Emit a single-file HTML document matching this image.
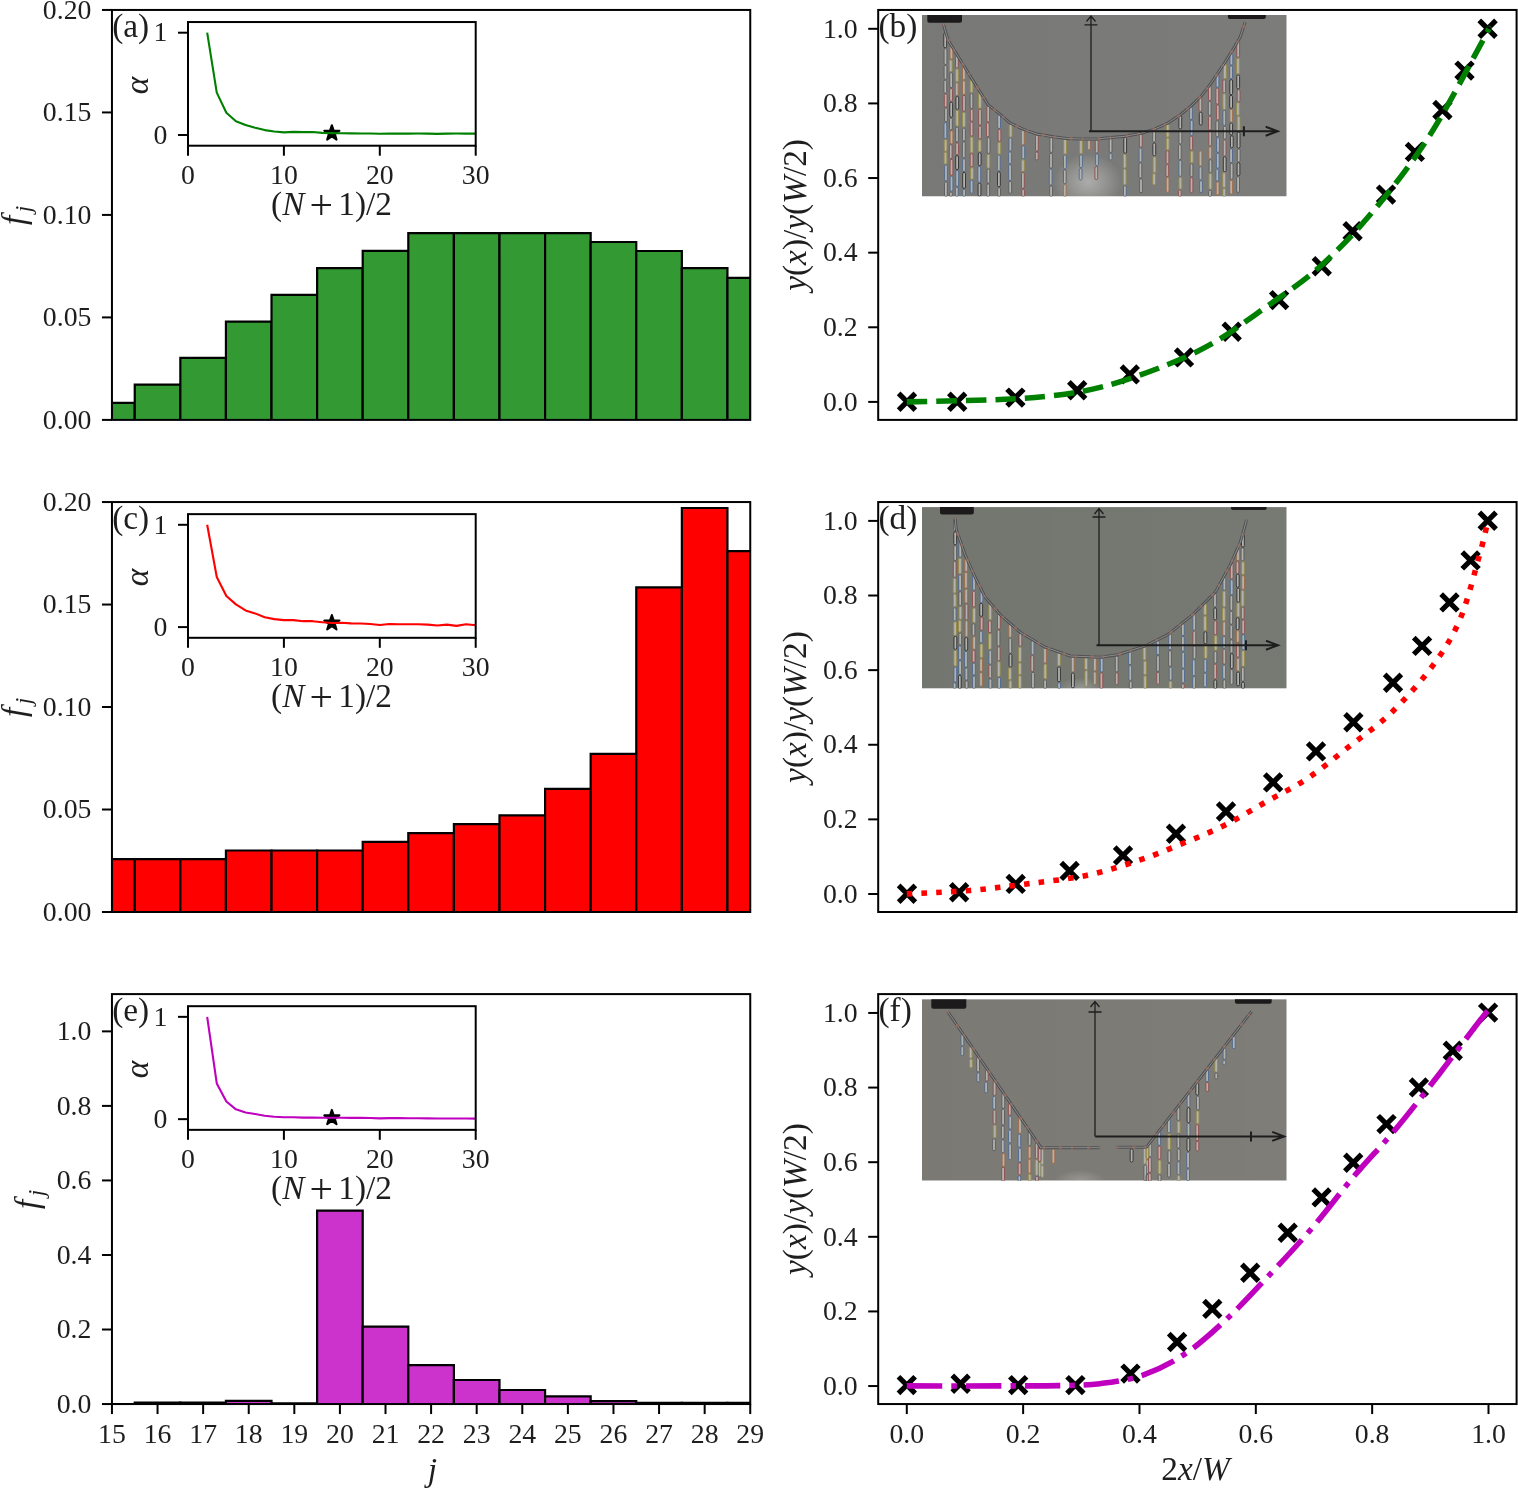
<!DOCTYPE html>
<html><head><meta charset="utf-8"><title>Figure</title>
<style>html,body{margin:0;padding:0;background:#fff;width:1518px;height:1488px;overflow:hidden}svg{display:block}</style>
</head><body>
<svg width="1518" height="1488" viewBox="0 0 1518 1488" font-family="'Liberation Serif', 'DejaVu Serif', serif" fill="#1e1e1e">
<rect width="1518" height="1488" fill="#fff"/>
<defs><radialGradient id="glare" cx="0.5" cy="0.5" r="0.5"><stop offset="0" stop-color="#dcdcdc" stop-opacity="0.6"/><stop offset="1" stop-color="#e8e8e8" stop-opacity="0"/></radialGradient><linearGradient id="vig" x1="0" y1="0" x2="1" y2="0"><stop offset="0" stop-color="#000" stop-opacity="0.015"/><stop offset="0.5" stop-color="#000" stop-opacity="0"/><stop offset="0.5" stop-color="#fff" stop-opacity="0"/><stop offset="1" stop-color="#fff" stop-opacity="0.015"/></linearGradient></defs>
<g clip-path="url(#clipL0)"><path d="M111.95,419.90V402.81H134.75V419.90" fill="#339933" stroke="#000" stroke-width="2.2" stroke-linejoin="miter"/><path d="M134.75,419.90V384.60H180.34V419.90" fill="#339933" stroke="#000" stroke-width="2.2" stroke-linejoin="miter"/><path d="M180.34,419.90V357.90H225.93V419.90" fill="#339933" stroke="#000" stroke-width="2.2" stroke-linejoin="miter"/><path d="M225.93,419.90V321.72H271.52V419.90" fill="#339933" stroke="#000" stroke-width="2.2" stroke-linejoin="miter"/><path d="M271.52,419.90V294.87H317.12V419.90" fill="#339933" stroke="#000" stroke-width="2.2" stroke-linejoin="miter"/><path d="M317.12,419.90V268.22H362.71V419.90" fill="#339933" stroke="#000" stroke-width="2.2" stroke-linejoin="miter"/><path d="M362.71,419.90V250.80H408.30V419.90" fill="#339933" stroke="#000" stroke-width="2.2" stroke-linejoin="miter"/><path d="M408.30,419.90V233.17H453.90V419.90" fill="#339933" stroke="#000" stroke-width="2.2" stroke-linejoin="miter"/><path d="M453.90,419.90V233.17H499.49V419.90" fill="#339933" stroke="#000" stroke-width="2.2" stroke-linejoin="miter"/><path d="M499.49,419.90V233.17H545.08V419.90" fill="#339933" stroke="#000" stroke-width="2.2" stroke-linejoin="miter"/><path d="M545.08,419.90V233.17H590.67V419.90" fill="#339933" stroke="#000" stroke-width="2.2" stroke-linejoin="miter"/><path d="M590.67,419.90V241.98H636.27V419.90" fill="#339933" stroke="#000" stroke-width="2.2" stroke-linejoin="miter"/><path d="M636.27,419.90V251.00H681.86V419.90" fill="#339933" stroke="#000" stroke-width="2.2" stroke-linejoin="miter"/><path d="M681.86,419.90V268.22H727.45V419.90" fill="#339933" stroke="#000" stroke-width="2.2" stroke-linejoin="miter"/><path d="M727.45,419.90V277.85H750.25V419.90" fill="#339933" stroke="#000" stroke-width="2.2" stroke-linejoin="miter"/></g>
<clipPath id="clipL0"><rect x="111.95" y="9.95" width="638.3" height="409.95"/></clipPath>
<rect x="111.95" y="9.95" width="638.30" height="409.95" fill="none" stroke="#000" stroke-width="2.0"/>
<line x1="101.95" y1="419.90" x2="111.95" y2="419.90" stroke="#000" stroke-width="2.0"/>
<text x="91.45" y="428.60" font-size="27.78" text-anchor="end" >0.00</text>
<line x1="101.95" y1="317.41" x2="111.95" y2="317.41" stroke="#000" stroke-width="2.0"/>
<text x="91.45" y="326.11" font-size="27.78" text-anchor="end" >0.05</text>
<line x1="101.95" y1="214.92" x2="111.95" y2="214.92" stroke="#000" stroke-width="2.0"/>
<text x="91.45" y="223.62" font-size="27.78" text-anchor="end" >0.10</text>
<line x1="101.95" y1="112.44" x2="111.95" y2="112.44" stroke="#000" stroke-width="2.0"/>
<text x="91.45" y="121.14" font-size="27.78" text-anchor="end" >0.15</text>
<line x1="101.95" y1="9.95" x2="111.95" y2="9.95" stroke="#000" stroke-width="2.0"/>
<text x="91.45" y="18.65" font-size="27.78" text-anchor="end" >0.20</text>
<text transform="translate(24.5,224.92) rotate(-90)" font-size="33.33" font-style="italic">f<tspan font-size="23.33" dx="3.5" dy="6">j</tspan></text>
<text x="112.15" y="36.75" font-size="33.33" text-anchor="start" >(a)</text>
<rect x="188.0" y="22.04" width="287.70" height="123.66" fill="#fff" stroke="none"/>
<polygon points="331.85,125.16 333.73,130.57 339.46,130.69 334.89,134.15 336.55,139.63 331.85,136.36 327.15,139.63 328.81,134.15 324.24,130.69 329.97,130.57" fill="#000" stroke="#000" stroke-width="2" stroke-linejoin="round"/>
<polyline points="207.18,32.70 216.77,92.60 226.36,112.70 235.95,121.19 245.54,125.08 255.13,127.84 264.72,130.09 274.31,131.52 283.90,132.34 293.49,131.83 303.08,132.14 312.67,132.03 322.26,132.85 331.85,133.16 341.44,133.26 351.03,133.36 360.62,133.47 370.21,133.57 379.80,133.77 389.39,133.57 398.98,133.67 408.57,133.67 418.16,133.57 427.75,133.67 437.34,133.87 446.93,133.67 456.52,133.57 466.11,133.67 475.70,133.67" fill="none" stroke="#008000" stroke-width="2.1" stroke-linejoin="round"/>
<rect x="188.0" y="22.04" width="287.70" height="123.66" fill="none" stroke="#000" stroke-width="2.0"/>
<line x1="178.00" y1="135.00" x2="188.00" y2="135.00" stroke="#000" stroke-width="2.0"/>
<text x="167.50" y="143.70" font-size="27.78" text-anchor="end" >0</text>
<line x1="178.00" y1="32.70" x2="188.00" y2="32.70" stroke="#000" stroke-width="2.0"/>
<text x="167.50" y="41.40" font-size="27.78" text-anchor="end" >1</text>
<line x1="188.00" y1="145.70" x2="188.00" y2="155.70" stroke="#000" stroke-width="2.0"/>
<text x="188.00" y="183.60" font-size="27.78" text-anchor="middle" >0</text>
<line x1="283.90" y1="145.70" x2="283.90" y2="155.70" stroke="#000" stroke-width="2.0"/>
<text x="283.90" y="183.60" font-size="27.78" text-anchor="middle" >10</text>
<line x1="379.80" y1="145.70" x2="379.80" y2="155.70" stroke="#000" stroke-width="2.0"/>
<text x="379.80" y="183.60" font-size="27.78" text-anchor="middle" >20</text>
<line x1="475.70" y1="145.70" x2="475.70" y2="155.70" stroke="#000" stroke-width="2.0"/>
<text x="475.70" y="183.60" font-size="27.78" text-anchor="middle" >30</text>
<text x="331.5" y="214.95" font-size="33.33" text-anchor="middle">(<tspan font-style="italic">N</tspan><tspan dx="5.15" dy="3.8" font-size="41.7">+</tspan><tspan dx="5.15" dy="-3.8">1)/2</tspan></text>
<text transform="translate(147.5,85.45) rotate(-90)" font-size="33.33" font-style="italic" text-anchor="middle">α</text>
<svg x="922.0" y="15.00" width="364.70" height="181.50" viewBox="922.0 15.00 364.70 181.50" overflow="hidden">
<rect x="922.0" y="15.00" width="364.70" height="181.50" fill="#7a7b78"/>
<rect x="922.0" y="15.00" width="364.70" height="181.50" fill="url(#vig)"/>
<ellipse cx="1088" cy="182" rx="34" ry="28" fill="url(#glare)" opacity="0.85"/>
<path d="M943.8,34.2v12.2a1.4,1.4 0 0 0 2.8,0v-12.2a1.4,1.4 0 0 0 -2.8,0zM949.8,103.6v12.2a1.4,1.4 0 0 0 2.8,0v-12.2a1.4,1.4 0 0 0 -2.8,0zM955.9,97.8v10.2a1.4,1.4 0 0 0 2.8,0v-10.2a1.4,1.4 0 0 0 -2.8,0zM955.7,157.0v11.2a1.4,1.4 0 0 0 2.8,0v-11.2a1.4,1.4 0 0 0 -2.8,0zM962.7,173.8v13.2a1.4,1.4 0 0 0 2.8,0v-13.2a1.4,1.4 0 0 0 -2.8,0zM978.3,154.0v10.2a1.4,1.4 0 0 0 2.8,0v-10.2a1.4,1.4 0 0 0 -2.8,0zM978.1,184.6v10.2a1.4,1.4 0 0 0 2.8,0v-10.2a1.4,1.4 0 0 0 -2.8,0zM997.5,173.2v12.2a1.4,1.4 0 0 0 2.8,0v-12.2a1.4,1.4 0 0 0 -2.8,0zM1123.8,138.7v13.2a1.4,1.4 0 0 0 2.8,0v-13.2a1.4,1.4 0 0 0 -2.8,0zM1152.9,144.3v10.2a1.4,1.4 0 0 0 2.8,0v-10.2a1.4,1.4 0 0 0 -2.8,0zM1178.9,117.4v10.2a1.4,1.4 0 0 0 2.8,0v-10.2a1.4,1.4 0 0 0 -2.8,0zM1199.3,113.6v10.0a1.4,1.4 0 0 0 2.8,0v-10.0a1.4,1.4 0 0 0 -2.8,0zM1223.3,158.2v12.2a1.4,1.4 0 0 0 2.8,0v-12.2a1.4,1.4 0 0 0 -2.8,0zM1229.8,81.0v12.2a1.4,1.4 0 0 0 2.8,0v-12.2a1.4,1.4 0 0 0 -2.8,0zM1229.7,96.8v10.2a1.4,1.4 0 0 0 2.8,0v-10.2a1.4,1.4 0 0 0 -2.8,0zM1229.8,124.4v9.2a1.4,1.4 0 0 0 2.8,0v-9.2a1.4,1.4 0 0 0 -2.8,0zM1230.4,137.2v9.2a1.4,1.4 0 0 0 2.8,0v-9.2a1.4,1.4 0 0 0 -2.8,0zM1236.8,76.3v11.2a1.4,1.4 0 0 0 2.8,0v-11.2a1.4,1.4 0 0 0 -2.8,0zM1237.2,133.5v13.2a1.4,1.4 0 0 0 2.8,0v-13.2a1.4,1.4 0 0 0 -2.8,0zM1237.1,164.1v10.2a1.4,1.4 0 0 0 2.8,0v-10.2a1.4,1.4 0 0 0 -2.8,0z" fill="#b2b2ae" stroke="#2e2e30" stroke-width="0.9"/>
<path d="M944.1,50.0v13.2a1.4,1.4 0 0 0 2.8,0v-13.2a1.4,1.4 0 0 0 -2.8,0zM944.1,66.8v11.2a1.4,1.4 0 0 0 2.8,0v-11.2a1.4,1.4 0 0 0 -2.8,0zM943.9,81.6v10.2a1.4,1.4 0 0 0 2.8,0v-10.2a1.4,1.4 0 0 0 -2.8,0zM944.6,109.2v11.2a1.4,1.4 0 0 0 2.8,0v-11.2a1.4,1.4 0 0 0 -2.8,0zM944.5,183.2v11.9a1.4,1.4 0 0 0 2.8,0v-11.9a1.4,1.4 0 0 0 -2.8,0zM949.8,74.0v12.2a1.4,1.4 0 0 0 2.8,0v-12.2a1.4,1.4 0 0 0 -2.8,0zM949.5,119.4v9.2a1.4,1.4 0 0 0 2.8,0v-9.2a1.4,1.4 0 0 0 -2.8,0zM949.5,193.4v1.7a1.4,1.4 0 0 0 2.8,0v-1.7a1.4,1.4 0 0 0 -2.8,0zM955.6,128.4v12.2a1.4,1.4 0 0 0 2.8,0v-12.2a1.4,1.4 0 0 0 -2.8,0zM962.5,129.4v10.2a1.4,1.4 0 0 0 2.8,0v-10.2a1.4,1.4 0 0 0 -2.8,0zM962.4,143.2v13.2a1.4,1.4 0 0 0 2.8,0v-13.2a1.4,1.4 0 0 0 -2.8,0zM970.1,94.9v12.2a1.4,1.4 0 0 0 2.8,0v-12.2a1.4,1.4 0 0 0 -2.8,0zM987.2,138.9v13.2a1.4,1.4 0 0 0 2.8,0v-13.2a1.4,1.4 0 0 0 -2.8,0zM987.0,170.5v11.2a1.4,1.4 0 0 0 2.8,0v-11.2a1.4,1.4 0 0 0 -2.8,0zM986.8,185.3v9.8a1.4,1.4 0 0 0 2.8,0v-9.8a1.4,1.4 0 0 0 -2.8,0zM997.7,189.0v6.1a1.4,1.4 0 0 0 2.8,0v-6.1a1.4,1.4 0 0 0 -2.8,0zM1008.8,182.8v9.2a1.4,1.4 0 0 0 2.8,0v-9.2a1.4,1.4 0 0 0 -2.8,0zM1049.9,138.9v12.2a1.4,1.4 0 0 0 2.8,0v-12.2a1.4,1.4 0 0 0 -2.8,0zM1049.6,154.7v12.2a1.4,1.4 0 0 0 2.8,0v-12.2a1.4,1.4 0 0 0 -2.8,0zM1049.7,187.3v7.8a1.4,1.4 0 0 0 2.8,0v-7.8a1.4,1.4 0 0 0 -2.8,0zM1063.4,171.2v11.2a1.4,1.4 0 0 0 2.8,0v-11.2a1.4,1.4 0 0 0 -2.8,0zM1109.2,140.0v11.2a1.4,1.4 0 0 0 2.8,0v-11.2a1.4,1.4 0 0 0 -2.8,0zM1139.0,164.3v12.2a1.4,1.4 0 0 0 2.8,0v-12.2a1.4,1.4 0 0 0 -2.8,0zM1139.6,180.1v11.2a1.4,1.4 0 0 0 2.8,0v-11.2a1.4,1.4 0 0 0 -2.8,0zM1152.7,131.5v9.2a1.4,1.4 0 0 0 2.8,0v-9.2a1.4,1.4 0 0 0 -2.8,0zM1179.0,131.2v11.2a1.4,1.4 0 0 0 2.8,0v-11.2a1.4,1.4 0 0 0 -2.8,0zM1178.4,146.0v12.2a1.4,1.4 0 0 0 2.8,0v-12.2a1.4,1.4 0 0 0 -2.8,0zM1190.1,165.2v10.2a1.4,1.4 0 0 0 2.8,0v-10.2a1.4,1.4 0 0 0 -2.8,0zM1208.3,102.8v11.2a1.4,1.4 0 0 0 2.8,0v-11.2a1.4,1.4 0 0 0 -2.8,0zM1209.1,161.0v10.2a1.4,1.4 0 0 0 2.8,0v-10.2a1.4,1.4 0 0 0 -2.8,0zM1208.6,191.6v3.5a1.4,1.4 0 0 0 2.8,0v-3.5a1.4,1.4 0 0 0 -2.8,0zM1215.9,122.1v13.2a1.4,1.4 0 0 0 2.8,0v-13.2a1.4,1.4 0 0 0 -2.8,0zM1223.4,127.6v10.2a1.4,1.4 0 0 0 2.8,0v-10.2a1.4,1.4 0 0 0 -2.8,0zM1230.2,164.8v13.2a1.4,1.4 0 0 0 2.8,0v-13.2a1.4,1.4 0 0 0 -2.8,0zM1237.3,150.3v10.2a1.4,1.4 0 0 0 2.8,0v-10.2a1.4,1.4 0 0 0 -2.8,0zM1236.7,177.9v13.2a1.4,1.4 0 0 0 2.8,0v-13.2a1.4,1.4 0 0 0 -2.8,0z" fill="#b2b2ae" stroke="#5a5a5c" stroke-width="0.9"/>
<path d="M944.3,95.4v10.2a1.4,1.4 0 0 0 2.8,0v-10.2a1.4,1.4 0 0 0 -2.8,0zM949.7,89.8v10.2a1.4,1.4 0 0 0 2.8,0v-10.2a1.4,1.4 0 0 0 -2.8,0zM949.3,146.0v11.2a1.4,1.4 0 0 0 2.8,0v-11.2a1.4,1.4 0 0 0 -2.8,0zM950.1,160.8v13.2a1.4,1.4 0 0 0 2.8,0v-13.2a1.4,1.4 0 0 0 -2.8,0zM955.5,57.4v9.2a1.4,1.4 0 0 0 2.8,0v-9.2a1.4,1.4 0 0 0 -2.8,0zM955.7,144.2v9.2a1.4,1.4 0 0 0 2.8,0v-9.2a1.4,1.4 0 0 0 -2.8,0zM962.6,96.8v13.2a1.4,1.4 0 0 0 2.8,0v-13.2a1.4,1.4 0 0 0 -2.8,0zM970.3,110.7v9.2a1.4,1.4 0 0 0 2.8,0v-9.2a1.4,1.4 0 0 0 -2.8,0zM970.2,123.5v11.2a1.4,1.4 0 0 0 2.8,0v-11.2a1.4,1.4 0 0 0 -2.8,0zM970.2,155.1v10.2a1.4,1.4 0 0 0 2.8,0v-10.2a1.4,1.4 0 0 0 -2.8,0zM978.6,110.6v13.2a1.4,1.4 0 0 0 2.8,0v-13.2a1.4,1.4 0 0 0 -2.8,0zM978.6,127.4v10.2a1.4,1.4 0 0 0 2.8,0v-10.2a1.4,1.4 0 0 0 -2.8,0zM986.8,107.3v13.2a1.4,1.4 0 0 0 2.8,0v-13.2a1.4,1.4 0 0 0 -2.8,0zM986.4,124.1v11.2a1.4,1.4 0 0 0 2.8,0v-11.2a1.4,1.4 0 0 0 -2.8,0zM998.1,130.8v9.2a1.4,1.4 0 0 0 2.8,0v-9.2a1.4,1.4 0 0 0 -2.8,0zM1021.5,173.8v13.2a1.4,1.4 0 0 0 2.8,0v-13.2a1.4,1.4 0 0 0 -2.8,0zM1021.8,190.6v4.5a1.4,1.4 0 0 0 2.8,0v-4.5a1.4,1.4 0 0 0 -2.8,0zM1035.5,136.5v13.2a1.4,1.4 0 0 0 2.8,0v-13.2a1.4,1.4 0 0 0 -2.8,0zM1035.4,153.3v5.3a1.4,1.4 0 0 0 2.8,0v-5.3a1.4,1.4 0 0 0 -2.8,0zM1095.3,141.4v10.2a1.4,1.4 0 0 0 2.8,0v-10.2a1.4,1.4 0 0 0 -2.8,0zM1094.9,168.0v10.2a1.4,1.4 0 0 0 2.8,0v-10.2a1.4,1.4 0 0 0 -2.8,0zM1139.4,135.7v10.2a1.4,1.4 0 0 0 2.8,0v-10.2a1.4,1.4 0 0 0 -2.8,0zM1166.1,152.2v10.2a1.4,1.4 0 0 0 2.8,0v-10.2a1.4,1.4 0 0 0 -2.8,0zM1165.9,166.0v9.2a1.4,1.4 0 0 0 2.8,0v-9.2a1.4,1.4 0 0 0 -2.8,0zM1178.4,191.4v3.7a1.4,1.4 0 0 0 2.8,0v-3.7a1.4,1.4 0 0 0 -2.8,0zM1189.8,137.6v11.2a1.4,1.4 0 0 0 2.8,0v-11.2a1.4,1.4 0 0 0 -2.8,0zM1190.1,179.0v12.2a1.4,1.4 0 0 0 2.8,0v-12.2a1.4,1.4 0 0 0 -2.8,0zM1199.0,98.8v11.2a1.4,1.4 0 0 0 2.8,0v-11.2a1.4,1.4 0 0 0 -2.8,0zM1208.5,87.0v12.2a1.4,1.4 0 0 0 2.8,0v-12.2a1.4,1.4 0 0 0 -2.8,0zM1208.5,117.6v11.2a1.4,1.4 0 0 0 2.8,0v-11.2a1.4,1.4 0 0 0 -2.8,0zM1208.8,132.4v12.2a1.4,1.4 0 0 0 2.8,0v-12.2a1.4,1.4 0 0 0 -2.8,0zM1215.9,89.5v13.2a1.4,1.4 0 0 0 2.8,0v-13.2a1.4,1.4 0 0 0 -2.8,0zM1216.4,106.3v12.2a1.4,1.4 0 0 0 2.8,0v-12.2a1.4,1.4 0 0 0 -2.8,0zM1222.8,81.2v10.2a1.4,1.4 0 0 0 2.8,0v-10.2a1.4,1.4 0 0 0 -2.8,0zM1223.2,141.4v13.2a1.4,1.4 0 0 0 2.8,0v-13.2a1.4,1.4 0 0 0 -2.8,0zM1236.8,42.7v13.2a1.4,1.4 0 0 0 2.8,0v-13.2a1.4,1.4 0 0 0 -2.8,0zM1237.2,91.1v9.2a1.4,1.4 0 0 0 2.8,0v-9.2a1.4,1.4 0 0 0 -2.8,0z" fill="#b2b2ae" stroke="#8e4c4c" stroke-width="0.9"/>
<path d="M944.0,124.0v13.2a1.4,1.4 0 0 0 2.8,0v-13.2a1.4,1.4 0 0 0 -2.8,0zM944.6,166.4v13.2a1.4,1.4 0 0 0 2.8,0v-13.2a1.4,1.4 0 0 0 -2.8,0zM950.1,177.6v12.2a1.4,1.4 0 0 0 2.8,0v-12.2a1.4,1.4 0 0 0 -2.8,0zM955.8,171.8v13.2a1.4,1.4 0 0 0 2.8,0v-13.2a1.4,1.4 0 0 0 -2.8,0zM955.4,188.6v6.5a1.4,1.4 0 0 0 2.8,0v-6.5a1.4,1.4 0 0 0 -2.8,0zM962.6,160.0v10.2a1.4,1.4 0 0 0 2.8,0v-10.2a1.4,1.4 0 0 0 -2.8,0zM962.7,190.6v4.5a1.4,1.4 0 0 0 2.8,0v-4.5a1.4,1.4 0 0 0 -2.8,0zM970.2,181.7v10.2a1.4,1.4 0 0 0 2.8,0v-10.2a1.4,1.4 0 0 0 -2.8,0zM977.9,167.8v13.2a1.4,1.4 0 0 0 2.8,0v-13.2a1.4,1.4 0 0 0 -2.8,0zM997.7,116.0v11.2a1.4,1.4 0 0 0 2.8,0v-11.2a1.4,1.4 0 0 0 -2.8,0zM997.4,156.4v13.2a1.4,1.4 0 0 0 2.8,0v-13.2a1.4,1.4 0 0 0 -2.8,0zM1009.0,139.4v10.2a1.4,1.4 0 0 0 2.8,0v-10.2a1.4,1.4 0 0 0 -2.8,0zM1008.6,153.2v9.2a1.4,1.4 0 0 0 2.8,0v-9.2a1.4,1.4 0 0 0 -2.8,0zM1008.7,166.0v13.2a1.4,1.4 0 0 0 2.8,0v-13.2a1.4,1.4 0 0 0 -2.8,0zM1021.9,147.2v10.2a1.4,1.4 0 0 0 2.8,0v-10.2a1.4,1.4 0 0 0 -2.8,0zM1049.3,170.5v13.2a1.4,1.4 0 0 0 2.8,0v-13.2a1.4,1.4 0 0 0 -2.8,0zM1063.5,156.4v11.2a1.4,1.4 0 0 0 2.8,0v-11.2a1.4,1.4 0 0 0 -2.8,0zM1079.6,156.2v10.2a1.4,1.4 0 0 0 2.8,0v-10.2a1.4,1.4 0 0 0 -2.8,0zM1079.2,170.0v8.6a1.4,1.4 0 0 0 2.8,0v-8.6a1.4,1.4 0 0 0 -2.8,0zM1095.6,155.2v9.2a1.4,1.4 0 0 0 2.8,0v-9.2a1.4,1.4 0 0 0 -2.8,0zM1109.2,154.8v3.8a1.4,1.4 0 0 0 2.8,0v-3.8a1.4,1.4 0 0 0 -2.8,0zM1123.5,187.1v8.0a1.4,1.4 0 0 0 2.8,0v-8.0a1.4,1.4 0 0 0 -2.8,0zM1139.1,149.5v11.2a1.4,1.4 0 0 0 2.8,0v-11.2a1.4,1.4 0 0 0 -2.8,0zM1178.9,161.8v13.2a1.4,1.4 0 0 0 2.8,0v-13.2a1.4,1.4 0 0 0 -2.8,0zM1189.6,108.0v10.2a1.4,1.4 0 0 0 2.8,0v-10.2a1.4,1.4 0 0 0 -2.8,0zM1190.2,121.8v12.2a1.4,1.4 0 0 0 2.8,0v-12.2a1.4,1.4 0 0 0 -2.8,0zM1199.1,168.2v10.2a1.4,1.4 0 0 0 2.8,0v-10.2a1.4,1.4 0 0 0 -2.8,0zM1199.6,182.0v9.2a1.4,1.4 0 0 0 2.8,0v-9.2a1.4,1.4 0 0 0 -2.8,0zM1216.1,75.7v10.2a1.4,1.4 0 0 0 2.8,0v-10.2a1.4,1.4 0 0 0 -2.8,0zM1216.6,138.9v12.2a1.4,1.4 0 0 0 2.8,0v-12.2a1.4,1.4 0 0 0 -2.8,0zM1216.4,154.7v12.2a1.4,1.4 0 0 0 2.8,0v-12.2a1.4,1.4 0 0 0 -2.8,0zM1215.9,170.5v9.2a1.4,1.4 0 0 0 2.8,0v-9.2a1.4,1.4 0 0 0 -2.8,0zM1222.9,111.8v12.2a1.4,1.4 0 0 0 2.8,0v-12.2a1.4,1.4 0 0 0 -2.8,0zM1230.0,54.4v9.2a1.4,1.4 0 0 0 2.8,0v-9.2a1.4,1.4 0 0 0 -2.8,0zM1229.7,67.2v10.2a1.4,1.4 0 0 0 2.8,0v-10.2a1.4,1.4 0 0 0 -2.8,0zM1229.7,150.0v11.2a1.4,1.4 0 0 0 2.8,0v-11.2a1.4,1.4 0 0 0 -2.8,0z" fill="#b2b2ae" stroke="#4c6890" stroke-width="0.9"/>
<path d="M944.2,140.8v9.2a1.4,1.4 0 0 0 2.8,0v-9.2a1.4,1.4 0 0 0 -2.8,0zM944.1,153.6v9.2a1.4,1.4 0 0 0 2.8,0v-9.2a1.4,1.4 0 0 0 -2.8,0zM949.4,61.2v9.2a1.4,1.4 0 0 0 2.8,0v-9.2a1.4,1.4 0 0 0 -2.8,0zM955.6,70.2v10.2a1.4,1.4 0 0 0 2.8,0v-10.2a1.4,1.4 0 0 0 -2.8,0zM955.8,111.6v13.2a1.4,1.4 0 0 0 2.8,0v-13.2a1.4,1.4 0 0 0 -2.8,0zM962.5,113.6v12.2a1.4,1.4 0 0 0 2.8,0v-12.2a1.4,1.4 0 0 0 -2.8,0zM970.1,81.1v10.2a1.4,1.4 0 0 0 2.8,0v-10.2a1.4,1.4 0 0 0 -2.8,0zM970.2,138.3v13.2a1.4,1.4 0 0 0 2.8,0v-13.2a1.4,1.4 0 0 0 -2.8,0zM970.6,168.9v9.2a1.4,1.4 0 0 0 2.8,0v-9.2a1.4,1.4 0 0 0 -2.8,0zM978.5,93.8v13.2a1.4,1.4 0 0 0 2.8,0v-13.2a1.4,1.4 0 0 0 -2.8,0zM978.3,141.2v9.2a1.4,1.4 0 0 0 2.8,0v-9.2a1.4,1.4 0 0 0 -2.8,0zM987.0,155.7v11.2a1.4,1.4 0 0 0 2.8,0v-11.2a1.4,1.4 0 0 0 -2.8,0zM997.9,143.6v9.2a1.4,1.4 0 0 0 2.8,0v-9.2a1.4,1.4 0 0 0 -2.8,0zM1009.2,125.6v10.2a1.4,1.4 0 0 0 2.8,0v-10.2a1.4,1.4 0 0 0 -2.8,0zM1021.6,161.0v9.2a1.4,1.4 0 0 0 2.8,0v-9.2a1.4,1.4 0 0 0 -2.8,0zM1063.7,140.6v12.2a1.4,1.4 0 0 0 2.8,0v-12.2a1.4,1.4 0 0 0 -2.8,0zM1079.6,141.4v11.2a1.4,1.4 0 0 0 2.8,0v-11.2a1.4,1.4 0 0 0 -2.8,0zM1123.3,155.5v11.2a1.4,1.4 0 0 0 2.8,0v-11.2a1.4,1.4 0 0 0 -2.8,0zM1123.3,170.3v13.2a1.4,1.4 0 0 0 2.8,0v-13.2a1.4,1.4 0 0 0 -2.8,0zM1153.1,158.1v13.2a1.4,1.4 0 0 0 2.8,0v-13.2a1.4,1.4 0 0 0 -2.8,0zM1152.7,174.9v8.7a1.4,1.4 0 0 0 2.8,0v-8.7a1.4,1.4 0 0 0 -2.8,0zM1166.3,125.6v10.2a1.4,1.4 0 0 0 2.8,0v-10.2a1.4,1.4 0 0 0 -2.8,0zM1166.3,139.4v9.2a1.4,1.4 0 0 0 2.8,0v-9.2a1.4,1.4 0 0 0 -2.8,0zM1179.0,178.6v9.2a1.4,1.4 0 0 0 2.8,0v-9.2a1.4,1.4 0 0 0 -2.8,0zM1190.4,152.4v9.2a1.4,1.4 0 0 0 2.8,0v-9.2a1.4,1.4 0 0 0 -2.8,0zM1209.0,174.8v13.2a1.4,1.4 0 0 0 2.8,0v-13.2a1.4,1.4 0 0 0 -2.8,0zM1223.5,65.4v12.2a1.4,1.4 0 0 0 2.8,0v-12.2a1.4,1.4 0 0 0 -2.8,0zM1222.9,95.0v13.2a1.4,1.4 0 0 0 2.8,0v-13.2a1.4,1.4 0 0 0 -2.8,0zM1222.7,174.0v12.2a1.4,1.4 0 0 0 2.8,0v-12.2a1.4,1.4 0 0 0 -2.8,0zM1222.8,189.8v5.3a1.4,1.4 0 0 0 2.8,0v-5.3a1.4,1.4 0 0 0 -2.8,0zM1236.6,59.5v13.2a1.4,1.4 0 0 0 2.8,0v-13.2a1.4,1.4 0 0 0 -2.8,0zM1236.6,103.9v10.2a1.4,1.4 0 0 0 2.8,0v-10.2a1.4,1.4 0 0 0 -2.8,0zM1237.2,117.7v12.2a1.4,1.4 0 0 0 2.8,0v-12.2a1.4,1.4 0 0 0 -2.8,0z" fill="#b2b2ae" stroke="#968a44" stroke-width="0.9"/>
<path d="M950.0,47.4v10.2a1.4,1.4 0 0 0 2.8,0v-10.2a1.4,1.4 0 0 0 -2.8,0zM950.1,132.2v10.2a1.4,1.4 0 0 0 2.8,0v-10.2a1.4,1.4 0 0 0 -2.8,0zM955.4,84.0v10.2a1.4,1.4 0 0 0 2.8,0v-10.2a1.4,1.4 0 0 0 -2.8,0zM962.5,68.2v10.2a1.4,1.4 0 0 0 2.8,0v-10.2a1.4,1.4 0 0 0 -2.8,0zM962.5,82.0v11.2a1.4,1.4 0 0 0 2.8,0v-11.2a1.4,1.4 0 0 0 -2.8,0zM1021.5,131.4v12.2a1.4,1.4 0 0 0 2.8,0v-12.2a1.4,1.4 0 0 0 -2.8,0zM1063.4,186.0v9.1a1.4,1.4 0 0 0 2.8,0v-9.1a1.4,1.4 0 0 0 -2.8,0zM1087.6,141.4v7.2a1.4,1.4 0 0 0 2.8,0v-7.2a1.4,1.4 0 0 0 -2.8,0zM1166.2,178.8v12.2a1.4,1.4 0 0 0 2.8,0v-12.2a1.4,1.4 0 0 0 -2.8,0zM1199.1,152.4v12.2a1.4,1.4 0 0 0 2.8,0v-12.2a1.4,1.4 0 0 0 -2.8,0zM1208.8,148.2v9.2a1.4,1.4 0 0 0 2.8,0v-9.2a1.4,1.4 0 0 0 -2.8,0zM1216.2,183.3v10.2a1.4,1.4 0 0 0 2.8,0v-10.2a1.4,1.4 0 0 0 -2.8,0zM1229.8,110.6v10.2a1.4,1.4 0 0 0 2.8,0v-10.2a1.4,1.4 0 0 0 -2.8,0zM1229.8,181.6v11.2a1.4,1.4 0 0 0 2.8,0v-11.2a1.4,1.4 0 0 0 -2.8,0z" fill="#b2b2ae" stroke="#a06a44" stroke-width="0.9"/>
<polyline points="943.2,23.6 948.0,40.0 960.0,59.5 975.0,83.9 988.2,104.9 1000.4,114.6 1010.2,123.2 1023.6,129.3 1037.0,134.1 1051.6,136.6 1066.3,138.4 1080.9,139.0 1096.7,139.0 1111.3,137.5 1125.0,136.3 1141.3,133.2 1153.8,129.4 1167.6,123.2 1180.1,115.0 1191.4,105.6 1202.0,95.2 1210.1,84.6 1217.6,73.3 1225.2,62.0 1233.3,48.9 1240.2,37.0 1245.2,22.0" fill="none" stroke="#505054" stroke-width="3.0" stroke-linejoin="round"/>
<polyline points="943.2,23.6 948.0,40.0 960.0,59.5 975.0,83.9 988.2,104.9 1000.4,114.6 1010.2,123.2 1023.6,129.3 1037.0,134.1 1051.6,136.6 1066.3,138.4 1080.9,139.0 1096.7,139.0 1111.3,137.5 1125.0,136.3 1141.3,133.2 1153.8,129.4 1167.6,123.2 1180.1,115.0 1191.4,105.6 1202.0,95.2 1210.1,84.6 1217.6,73.3 1225.2,62.0 1233.3,48.9 1240.2,37.0 1245.2,22.0" fill="none" stroke="#94948f" stroke-width="0.9" stroke-linejoin="round"/>
<polyline points="943.2,23.6 948.0,40.0 960.0,59.5 975.0,83.9 988.2,104.9 1000.4,114.6 1010.2,123.2 1023.6,129.3 1037.0,134.1 1051.6,136.6 1066.3,138.4 1080.9,139.0 1096.7,139.0 1111.3,137.5 1125.0,136.3 1141.3,133.2 1153.8,129.4 1167.6,123.2 1180.1,115.0 1191.4,105.6 1202.0,95.2 1210.1,84.6 1217.6,73.3 1225.2,62.0 1233.3,48.9 1240.2,37.0 1245.2,22.0" fill="none" stroke="#a07060" stroke-width="3.4" stroke-dasharray="2,14,3,9" stroke-opacity="0.6" stroke-linejoin="round"/>
<path d="M1091,131.3V16.5M1086.5,21.5L1091,16.0L1095.5,21.5M1084.5,24.8H1097.5" stroke="#1e1e1e" stroke-width="1.3" fill="none"/>
<path d="M1089,131.3H1277.7M1265.7,126.80000000000001L1277.7,131.3L1265.7,135.8M1243.9,126.30000000000001V136.3" stroke="#1e1e1e" stroke-width="2" fill="none"/>
<rect x="927.3" y="11" width="34.7" height="11.7" rx="2" fill="#1c1a1a"/>
<rect x="1227.9" y="11.1" width="37.9" height="7.8" rx="2" fill="#1c1a1a"/>
</svg>
<path d="M898.65,393.35L915.35,410.05M898.65,410.05L915.35,393.35" stroke="#000" stroke-width="5.2" stroke-linecap="butt" fill="none"/>
<path d="M948.85,393.35L965.55,410.05M948.85,410.05L965.55,393.35" stroke="#000" stroke-width="5.2" stroke-linecap="butt" fill="none"/>
<path d="M1007.05,389.25L1023.75,405.95M1007.05,405.95L1023.75,389.25" stroke="#000" stroke-width="5.2" stroke-linecap="butt" fill="none"/>
<path d="M1068.85,381.85L1085.55,398.55M1068.85,398.55L1085.55,381.85" stroke="#000" stroke-width="5.2" stroke-linecap="butt" fill="none"/>
<path d="M1121.45,366.05L1138.15,382.75M1121.45,382.75L1138.15,366.05" stroke="#000" stroke-width="5.2" stroke-linecap="butt" fill="none"/>
<path d="M1175.65,349.05L1192.35,365.75M1175.65,365.75L1192.35,349.05" stroke="#000" stroke-width="5.2" stroke-linecap="butt" fill="none"/>
<path d="M1223.35,323.45L1240.05,340.15M1223.35,340.15L1240.05,323.45" stroke="#000" stroke-width="5.2" stroke-linecap="butt" fill="none"/>
<path d="M1270.75,291.75L1287.45,308.45M1270.75,308.45L1287.45,291.75" stroke="#000" stroke-width="5.2" stroke-linecap="butt" fill="none"/>
<path d="M1313.45,257.85L1330.15,274.55M1313.45,274.55L1330.15,257.85" stroke="#000" stroke-width="5.2" stroke-linecap="butt" fill="none"/>
<path d="M1344.25,222.85L1360.95,239.55M1344.25,239.55L1360.95,222.85" stroke="#000" stroke-width="5.2" stroke-linecap="butt" fill="none"/>
<path d="M1377.65,186.25L1394.35,202.95M1377.65,202.95L1394.35,186.25" stroke="#000" stroke-width="5.2" stroke-linecap="butt" fill="none"/>
<path d="M1406.55,143.55L1423.25,160.25M1406.55,160.25L1423.25,143.55" stroke="#000" stroke-width="5.2" stroke-linecap="butt" fill="none"/>
<path d="M1434.05,101.65L1450.75,118.35M1434.05,118.35L1450.75,101.65" stroke="#000" stroke-width="5.2" stroke-linecap="butt" fill="none"/>
<path d="M1456.15,62.25L1472.85,78.95M1456.15,78.95L1472.85,62.25" stroke="#000" stroke-width="5.2" stroke-linecap="butt" fill="none"/>
<path d="M1479.25,20.35L1495.95,37.05M1479.25,37.05L1495.95,20.35" stroke="#000" stroke-width="5.2" stroke-linecap="butt" fill="none"/>
<path d="M906.80,401.90C922.33,401.50 976.13,400.48 1000.00,399.50C1023.87,398.52 1033.33,398.02 1050.00,396.00C1066.67,393.98 1082.48,391.82 1100.00,387.40C1117.52,382.98 1136.73,376.62 1155.10,369.50C1173.47,362.38 1191.83,355.03 1210.20,344.70C1228.57,334.37 1246.93,320.58 1265.30,307.50C1283.67,294.42 1302.03,282.72 1320.40,266.20C1338.77,249.68 1357.13,230.43 1375.50,208.40C1393.87,186.37 1412.70,162.02 1430.60,134.00C1448.50,105.98 1473.25,57.83 1482.90,40.30C1492.55,22.77 1487.57,30.72 1488.50,28.80" fill="none" stroke="#008000" stroke-width="5.56" stroke-dasharray="20.57,8.90" stroke-linecap="butt"/>
<rect x="878.2" y="9.95" width="638.40" height="409.95" fill="none" stroke="#000" stroke-width="2.0"/>
<line x1="868.20" y1="401.90" x2="878.20" y2="401.90" stroke="#000" stroke-width="2.0"/>
<text x="857.70" y="410.60" font-size="27.78" text-anchor="end" >0.0</text>
<line x1="868.20" y1="327.28" x2="878.20" y2="327.28" stroke="#000" stroke-width="2.0"/>
<text x="857.70" y="335.98" font-size="27.78" text-anchor="end" >0.2</text>
<line x1="868.20" y1="252.66" x2="878.20" y2="252.66" stroke="#000" stroke-width="2.0"/>
<text x="857.70" y="261.36" font-size="27.78" text-anchor="end" >0.4</text>
<line x1="868.20" y1="178.04" x2="878.20" y2="178.04" stroke="#000" stroke-width="2.0"/>
<text x="857.70" y="186.74" font-size="27.78" text-anchor="end" >0.6</text>
<line x1="868.20" y1="103.42" x2="878.20" y2="103.42" stroke="#000" stroke-width="2.0"/>
<text x="857.70" y="112.12" font-size="27.78" text-anchor="end" >0.8</text>
<line x1="868.20" y1="28.80" x2="878.20" y2="28.80" stroke="#000" stroke-width="2.0"/>
<text x="857.70" y="37.50" font-size="27.78" text-anchor="end" >1.0</text>
<text transform="translate(805.5,214.92) rotate(-90)" font-size="33.33" text-anchor="middle"><tspan font-style="italic">y</tspan>(<tspan font-style="italic">x</tspan>)/<tspan font-style="italic">y</tspan>(<tspan font-style="italic">W</tspan>/2)</text>
<text x="878.50" y="36.75" font-size="33.33" text-anchor="start" >(b)</text>
<g clip-path="url(#clipL1)"><path d="M111.95,912.00V859.12H134.75V912.00" fill="#ff0000" stroke="#000" stroke-width="2.2" stroke-linejoin="miter"/><path d="M134.75,912.00V859.12H180.34V912.00" fill="#ff0000" stroke="#000" stroke-width="2.2" stroke-linejoin="miter"/><path d="M180.34,912.00V859.12H225.93V912.00" fill="#ff0000" stroke="#000" stroke-width="2.2" stroke-linejoin="miter"/><path d="M225.93,912.00V850.51H271.52V912.00" fill="#ff0000" stroke="#000" stroke-width="2.2" stroke-linejoin="miter"/><path d="M271.52,912.00V850.51H317.12V912.00" fill="#ff0000" stroke="#000" stroke-width="2.2" stroke-linejoin="miter"/><path d="M317.12,912.00V850.51H362.71V912.00" fill="#ff0000" stroke="#000" stroke-width="2.2" stroke-linejoin="miter"/><path d="M362.71,912.00V841.90H408.30V912.00" fill="#ff0000" stroke="#000" stroke-width="2.2" stroke-linejoin="miter"/><path d="M408.30,912.00V833.08H453.90V912.00" fill="#ff0000" stroke="#000" stroke-width="2.2" stroke-linejoin="miter"/><path d="M453.90,912.00V824.07H499.49V912.00" fill="#ff0000" stroke="#000" stroke-width="2.2" stroke-linejoin="miter"/><path d="M499.49,912.00V815.46H545.08V912.00" fill="#ff0000" stroke="#000" stroke-width="2.2" stroke-linejoin="miter"/><path d="M545.08,912.00V788.81H590.67V912.00" fill="#ff0000" stroke="#000" stroke-width="2.2" stroke-linejoin="miter"/><path d="M590.67,912.00V753.96H636.27V912.00" fill="#ff0000" stroke="#000" stroke-width="2.2" stroke-linejoin="miter"/><path d="M636.27,912.00V587.32H681.86V912.00" fill="#ff0000" stroke="#000" stroke-width="2.2" stroke-linejoin="miter"/><path d="M681.86,912.00V507.99H727.45V912.00" fill="#ff0000" stroke="#000" stroke-width="2.2" stroke-linejoin="miter"/><path d="M727.45,912.00V551.04H750.25V912.00" fill="#ff0000" stroke="#000" stroke-width="2.2" stroke-linejoin="miter"/></g>
<clipPath id="clipL1"><rect x="111.95" y="502.05" width="638.3" height="409.95"/></clipPath>
<rect x="111.95" y="502.05" width="638.30" height="409.95" fill="none" stroke="#000" stroke-width="2.0"/>
<line x1="101.95" y1="912.00" x2="111.95" y2="912.00" stroke="#000" stroke-width="2.0"/>
<text x="91.45" y="920.70" font-size="27.78" text-anchor="end" >0.00</text>
<line x1="101.95" y1="809.51" x2="111.95" y2="809.51" stroke="#000" stroke-width="2.0"/>
<text x="91.45" y="818.21" font-size="27.78" text-anchor="end" >0.05</text>
<line x1="101.95" y1="707.02" x2="111.95" y2="707.02" stroke="#000" stroke-width="2.0"/>
<text x="91.45" y="715.73" font-size="27.78" text-anchor="end" >0.10</text>
<line x1="101.95" y1="604.54" x2="111.95" y2="604.54" stroke="#000" stroke-width="2.0"/>
<text x="91.45" y="613.24" font-size="27.78" text-anchor="end" >0.15</text>
<line x1="101.95" y1="502.05" x2="111.95" y2="502.05" stroke="#000" stroke-width="2.0"/>
<text x="91.45" y="510.75" font-size="27.78" text-anchor="end" >0.20</text>
<text transform="translate(24.5,717.02) rotate(-90)" font-size="33.33" font-style="italic">f<tspan font-size="23.33" dx="3.5" dy="6">j</tspan></text>
<text x="112.15" y="528.85" font-size="33.33" text-anchor="start" >(c)</text>
<rect x="188.0" y="514.14" width="287.70" height="123.66" fill="#fff" stroke="none"/>
<polygon points="331.85,615.01 333.73,620.42 339.46,620.54 334.89,624.00 336.55,629.48 331.85,626.21 327.15,629.48 328.81,624.00 324.24,620.54 329.97,620.42" fill="#000" stroke="#000" stroke-width="2" stroke-linejoin="round"/>
<polyline points="207.18,524.80 216.77,576.97 226.36,596.00 235.95,604.39 245.54,610.43 255.13,613.39 264.72,617.28 274.31,619.12 283.90,620.14 293.49,620.14 303.08,621.17 312.67,621.17 322.26,622.19 331.85,623.01 341.44,622.80 351.03,623.42 360.62,623.52 370.21,624.03 379.80,625.05 389.39,624.03 398.98,624.24 408.57,624.24 418.16,624.24 427.75,624.64 437.34,625.57 446.93,624.64 456.52,625.87 466.11,624.24 475.70,625.26" fill="none" stroke="#ff0000" stroke-width="2.1" stroke-linejoin="round"/>
<rect x="188.0" y="514.14" width="287.70" height="123.66" fill="none" stroke="#000" stroke-width="2.0"/>
<line x1="178.00" y1="627.10" x2="188.00" y2="627.10" stroke="#000" stroke-width="2.0"/>
<text x="167.50" y="635.80" font-size="27.78" text-anchor="end" >0</text>
<line x1="178.00" y1="524.80" x2="188.00" y2="524.80" stroke="#000" stroke-width="2.0"/>
<text x="167.50" y="533.50" font-size="27.78" text-anchor="end" >1</text>
<line x1="188.00" y1="637.80" x2="188.00" y2="647.80" stroke="#000" stroke-width="2.0"/>
<text x="188.00" y="675.70" font-size="27.78" text-anchor="middle" >0</text>
<line x1="283.90" y1="637.80" x2="283.90" y2="647.80" stroke="#000" stroke-width="2.0"/>
<text x="283.90" y="675.70" font-size="27.78" text-anchor="middle" >10</text>
<line x1="379.80" y1="637.80" x2="379.80" y2="647.80" stroke="#000" stroke-width="2.0"/>
<text x="379.80" y="675.70" font-size="27.78" text-anchor="middle" >20</text>
<line x1="475.70" y1="637.80" x2="475.70" y2="647.80" stroke="#000" stroke-width="2.0"/>
<text x="475.70" y="675.70" font-size="27.78" text-anchor="middle" >30</text>
<text x="331.5" y="707.05" font-size="33.33" text-anchor="middle">(<tspan font-style="italic">N</tspan><tspan dx="5.15" dy="3.8" font-size="41.7">+</tspan><tspan dx="5.15" dy="-3.8">1)/2</tspan></text>
<text transform="translate(147.5,577.55) rotate(-90)" font-size="33.33" font-style="italic" text-anchor="middle">α</text>
<svg x="922.0" y="507.10" width="364.70" height="181.50" viewBox="922.0 507.10 364.70 181.50" overflow="hidden">
<rect x="922.0" y="507.10" width="364.70" height="181.50" fill="#757771"/>
<rect x="922.0" y="507.10" width="364.70" height="181.50" fill="url(#vig)"/>
<ellipse cx="1080" cy="688" rx="22" ry="10" fill="url(#glare)" opacity="0.5"/>
<path d="M953.6,519.4v10.2a1.4,1.4 0 0 0 2.8,0v-10.2a1.4,1.4 0 0 0 -2.8,0zM953.8,547.0v12.2a1.4,1.4 0 0 0 2.8,0v-12.2a1.4,1.4 0 0 0 -2.8,0zM958.8,593.0v11.2a1.4,1.4 0 0 0 2.8,0v-11.2a1.4,1.4 0 0 0 -2.8,0zM958.8,634.4v9.2a1.4,1.4 0 0 0 2.8,0v-9.2a1.4,1.4 0 0 0 -2.8,0zM965.2,682.3v4.9a1.4,1.4 0 0 0 2.8,0v-4.9a1.4,1.4 0 0 0 -2.8,0zM972.1,625.1v9.2a1.4,1.4 0 0 0 2.8,0v-9.2a1.4,1.4 0 0 0 -2.8,0zM997.1,631.4v13.2a1.4,1.4 0 0 0 2.8,0v-13.2a1.4,1.4 0 0 0 -2.8,0zM1008.9,639.6v12.2a1.4,1.4 0 0 0 2.8,0v-12.2a1.4,1.4 0 0 0 -2.8,0zM1031.6,673.7v13.2a1.4,1.4 0 0 0 2.8,0v-13.2a1.4,1.4 0 0 0 -2.8,0zM1043.7,681.2v6.0a1.4,1.4 0 0 0 2.8,0v-6.0a1.4,1.4 0 0 0 -2.8,0zM1115.3,657.3v13.2a1.4,1.4 0 0 0 2.8,0v-13.2a1.4,1.4 0 0 0 -2.8,0zM1129.3,682.7v4.5a1.4,1.4 0 0 0 2.8,0v-4.5a1.4,1.4 0 0 0 -2.8,0zM1156.6,656.9v13.2a1.4,1.4 0 0 0 2.8,0v-13.2a1.4,1.4 0 0 0 -2.8,0zM1168.6,651.9v13.2a1.4,1.4 0 0 0 2.8,0v-13.2a1.4,1.4 0 0 0 -2.8,0zM1193.1,647.3v10.2a1.4,1.4 0 0 0 2.8,0v-10.2a1.4,1.4 0 0 0 -2.8,0zM1213.6,594.5v11.2a1.4,1.4 0 0 0 2.8,0v-11.2a1.4,1.4 0 0 0 -2.8,0zM1214.0,652.7v9.2a1.4,1.4 0 0 0 2.8,0v-9.2a1.4,1.4 0 0 0 -2.8,0zM1223.0,681.1v6.1a1.4,1.4 0 0 0 2.8,0v-6.1a1.4,1.4 0 0 0 -2.8,0zM1230.0,596.9v12.2a1.4,1.4 0 0 0 2.8,0v-12.2a1.4,1.4 0 0 0 -2.8,0zM1229.9,612.7v10.2a1.4,1.4 0 0 0 2.8,0v-10.2a1.4,1.4 0 0 0 -2.8,0zM1229.9,626.5v11.2a1.4,1.4 0 0 0 2.8,0v-11.2a1.4,1.4 0 0 0 -2.8,0zM1230.1,641.3v10.2a1.4,1.4 0 0 0 2.8,0v-10.2a1.4,1.4 0 0 0 -2.8,0zM1230.2,670.9v12.2a1.4,1.4 0 0 0 2.8,0v-12.2a1.4,1.4 0 0 0 -2.8,0zM1241.1,549.3v10.2a1.4,1.4 0 0 0 2.8,0v-10.2a1.4,1.4 0 0 0 -2.8,0zM1241.4,668.7v11.2a1.4,1.4 0 0 0 2.8,0v-11.2a1.4,1.4 0 0 0 -2.8,0z" fill="#b2b2ae" stroke="#5a5a5c" stroke-width="0.9"/>
<path d="M953.8,533.2v10.2a1.4,1.4 0 0 0 2.8,0v-10.2a1.4,1.4 0 0 0 -2.8,0zM954.0,637.8v10.2a1.4,1.4 0 0 0 2.8,0v-10.2a1.4,1.4 0 0 0 -2.8,0zM958.4,676.8v10.4a1.4,1.4 0 0 0 2.8,0v-10.4a1.4,1.4 0 0 0 -2.8,0zM964.9,638.9v10.2a1.4,1.4 0 0 0 2.8,0v-10.2a1.4,1.4 0 0 0 -2.8,0zM979.8,604.8v10.2a1.4,1.4 0 0 0 2.8,0v-10.2a1.4,1.4 0 0 0 -2.8,0zM1009.1,655.4v10.2a1.4,1.4 0 0 0 2.8,0v-10.2a1.4,1.4 0 0 0 -2.8,0zM1057.6,668.2v12.2a1.4,1.4 0 0 0 2.8,0v-12.2a1.4,1.4 0 0 0 -2.8,0zM1071.5,674.3v12.2a1.4,1.4 0 0 0 2.8,0v-12.2a1.4,1.4 0 0 0 -2.8,0zM1204.0,633.1v9.2a1.4,1.4 0 0 0 2.8,0v-9.2a1.4,1.4 0 0 0 -2.8,0zM1213.8,609.3v9.2a1.4,1.4 0 0 0 2.8,0v-9.2a1.4,1.4 0 0 0 -2.8,0zM1213.9,681.3v5.9a1.4,1.4 0 0 0 2.8,0v-5.9a1.4,1.4 0 0 0 -2.8,0zM1230.4,655.1v12.2a1.4,1.4 0 0 0 2.8,0v-12.2a1.4,1.4 0 0 0 -2.8,0zM1236.3,575.7v10.2a1.4,1.4 0 0 0 2.8,0v-10.2a1.4,1.4 0 0 0 -2.8,0zM1236.9,589.5v11.2a1.4,1.4 0 0 0 2.8,0v-11.2a1.4,1.4 0 0 0 -2.8,0zM1236.2,619.1v9.2a1.4,1.4 0 0 0 2.8,0v-9.2a1.4,1.4 0 0 0 -2.8,0zM1236.7,673.3v11.2a1.4,1.4 0 0 0 2.8,0v-11.2a1.4,1.4 0 0 0 -2.8,0zM1241.5,535.5v10.2a1.4,1.4 0 0 0 2.8,0v-10.2a1.4,1.4 0 0 0 -2.8,0zM1241.6,683.5v3.7a1.4,1.4 0 0 0 2.8,0v-3.7a1.4,1.4 0 0 0 -2.8,0z" fill="#b2b2ae" stroke="#2e2e30" stroke-width="0.9"/>
<path d="M953.3,562.8v13.2a1.4,1.4 0 0 0 2.8,0v-13.2a1.4,1.4 0 0 0 -2.8,0zM965.1,605.3v13.2a1.4,1.4 0 0 0 2.8,0v-13.2a1.4,1.4 0 0 0 -2.8,0zM972.5,592.5v13.2a1.4,1.4 0 0 0 2.8,0v-13.2a1.4,1.4 0 0 0 -2.8,0zM972.2,651.7v9.2a1.4,1.4 0 0 0 2.8,0v-9.2a1.4,1.4 0 0 0 -2.8,0zM980.2,618.6v10.2a1.4,1.4 0 0 0 2.8,0v-10.2a1.4,1.4 0 0 0 -2.8,0zM988.5,622.1v9.2a1.4,1.4 0 0 0 2.8,0v-9.2a1.4,1.4 0 0 0 -2.8,0zM988.8,666.5v10.2a1.4,1.4 0 0 0 2.8,0v-10.2a1.4,1.4 0 0 0 -2.8,0zM997.5,615.6v12.2a1.4,1.4 0 0 0 2.8,0v-12.2a1.4,1.4 0 0 0 -2.8,0zM997.3,648.2v11.2a1.4,1.4 0 0 0 2.8,0v-11.2a1.4,1.4 0 0 0 -2.8,0zM1019.0,634.6v10.2a1.4,1.4 0 0 0 2.8,0v-10.2a1.4,1.4 0 0 0 -2.8,0zM1030.9,656.9v13.2a1.4,1.4 0 0 0 2.8,0v-13.2a1.4,1.4 0 0 0 -2.8,0zM1100.0,674.2v13.0a1.4,1.4 0 0 0 2.8,0v-13.0a1.4,1.4 0 0 0 -2.8,0zM1115.3,674.1v9.2a1.4,1.4 0 0 0 2.8,0v-9.2a1.4,1.4 0 0 0 -2.8,0zM1156.7,673.7v9.2a1.4,1.4 0 0 0 2.8,0v-9.2a1.4,1.4 0 0 0 -2.8,0zM1181.5,685.2v2.0a1.4,1.4 0 0 0 2.8,0v-2.0a1.4,1.4 0 0 0 -2.8,0zM1192.9,632.5v11.2a1.4,1.4 0 0 0 2.8,0v-11.2a1.4,1.4 0 0 0 -2.8,0zM1213.9,622.1v11.2a1.4,1.4 0 0 0 2.8,0v-11.2a1.4,1.4 0 0 0 -2.8,0zM1213.8,665.5v12.2a1.4,1.4 0 0 0 2.8,0v-12.2a1.4,1.4 0 0 0 -2.8,0zM1222.9,650.6v12.2a1.4,1.4 0 0 0 2.8,0v-12.2a1.4,1.4 0 0 0 -2.8,0zM1230.3,564.3v13.2a1.4,1.4 0 0 0 2.8,0v-13.2a1.4,1.4 0 0 0 -2.8,0zM1236.1,562.9v9.2a1.4,1.4 0 0 0 2.8,0v-9.2a1.4,1.4 0 0 0 -2.8,0zM1236.5,644.7v11.2a1.4,1.4 0 0 0 2.8,0v-11.2a1.4,1.4 0 0 0 -2.8,0zM1241.3,608.5v9.2a1.4,1.4 0 0 0 2.8,0v-9.2a1.4,1.4 0 0 0 -2.8,0zM1241.8,621.3v11.2a1.4,1.4 0 0 0 2.8,0v-11.2a1.4,1.4 0 0 0 -2.8,0z" fill="#b2b2ae" stroke="#8e4c4c" stroke-width="0.9"/>
<path d="M953.2,579.6v12.2a1.4,1.4 0 0 0 2.8,0v-12.2a1.4,1.4 0 0 0 -2.8,0zM953.4,595.4v10.2a1.4,1.4 0 0 0 2.8,0v-10.2a1.4,1.4 0 0 0 -2.8,0zM953.7,623.0v11.2a1.4,1.4 0 0 0 2.8,0v-11.2a1.4,1.4 0 0 0 -2.8,0zM953.9,651.6v13.2a1.4,1.4 0 0 0 2.8,0v-13.2a1.4,1.4 0 0 0 -2.8,0zM958.6,559.4v13.2a1.4,1.4 0 0 0 2.8,0v-13.2a1.4,1.4 0 0 0 -2.8,0zM959.0,607.8v10.2a1.4,1.4 0 0 0 2.8,0v-10.2a1.4,1.4 0 0 0 -2.8,0zM958.4,621.6v9.2a1.4,1.4 0 0 0 2.8,0v-9.2a1.4,1.4 0 0 0 -2.8,0zM972.7,609.3v12.2a1.4,1.4 0 0 0 2.8,0v-12.2a1.4,1.4 0 0 0 -2.8,0zM980.0,645.2v11.2a1.4,1.4 0 0 0 2.8,0v-11.2a1.4,1.4 0 0 0 -2.8,0zM988.8,605.3v13.2a1.4,1.4 0 0 0 2.8,0v-13.2a1.4,1.4 0 0 0 -2.8,0zM988.5,634.9v13.2a1.4,1.4 0 0 0 2.8,0v-13.2a1.4,1.4 0 0 0 -2.8,0zM997.4,663.0v12.2a1.4,1.4 0 0 0 2.8,0v-12.2a1.4,1.4 0 0 0 -2.8,0zM1008.5,669.2v9.2a1.4,1.4 0 0 0 2.8,0v-9.2a1.4,1.4 0 0 0 -2.8,0zM1009.0,682.0v5.2a1.4,1.4 0 0 0 2.8,0v-5.2a1.4,1.4 0 0 0 -2.8,0zM1018.6,648.4v12.2a1.4,1.4 0 0 0 2.8,0v-12.2a1.4,1.4 0 0 0 -2.8,0zM1018.5,664.2v9.2a1.4,1.4 0 0 0 2.8,0v-9.2a1.4,1.4 0 0 0 -2.8,0zM1018.5,677.0v10.2a1.4,1.4 0 0 0 2.8,0v-10.2a1.4,1.4 0 0 0 -2.8,0zM1043.9,665.4v12.2a1.4,1.4 0 0 0 2.8,0v-12.2a1.4,1.4 0 0 0 -2.8,0zM1057.5,654.4v10.2a1.4,1.4 0 0 0 2.8,0v-10.2a1.4,1.4 0 0 0 -2.8,0zM1084.7,659.1v9.2a1.4,1.4 0 0 0 2.8,0v-9.2a1.4,1.4 0 0 0 -2.8,0zM1084.9,671.9v13.2a1.4,1.4 0 0 0 2.8,0v-13.2a1.4,1.4 0 0 0 -2.8,0zM1143.1,648.5v10.2a1.4,1.4 0 0 0 2.8,0v-10.2a1.4,1.4 0 0 0 -2.8,0zM1143.6,662.3v11.2a1.4,1.4 0 0 0 2.8,0v-11.2a1.4,1.4 0 0 0 -2.8,0zM1143.7,677.1v10.1a1.4,1.4 0 0 0 2.8,0v-10.1a1.4,1.4 0 0 0 -2.8,0zM1169.1,682.5v4.7a1.4,1.4 0 0 0 2.8,0v-4.7a1.4,1.4 0 0 0 -2.8,0zM1203.7,604.5v9.2a1.4,1.4 0 0 0 2.8,0v-9.2a1.4,1.4 0 0 0 -2.8,0zM1203.7,617.3v12.2a1.4,1.4 0 0 0 2.8,0v-12.2a1.4,1.4 0 0 0 -2.8,0zM1204.3,645.9v11.2a1.4,1.4 0 0 0 2.8,0v-11.2a1.4,1.4 0 0 0 -2.8,0zM1214.3,636.9v12.2a1.4,1.4 0 0 0 2.8,0v-12.2a1.4,1.4 0 0 0 -2.8,0zM1222.8,592.4v13.2a1.4,1.4 0 0 0 2.8,0v-13.2a1.4,1.4 0 0 0 -2.8,0zM1222.4,609.2v10.2a1.4,1.4 0 0 0 2.8,0v-10.2a1.4,1.4 0 0 0 -2.8,0zM1236.9,604.3v11.2a1.4,1.4 0 0 0 2.8,0v-11.2a1.4,1.4 0 0 0 -2.8,0zM1241.6,563.1v10.2a1.4,1.4 0 0 0 2.8,0v-10.2a1.4,1.4 0 0 0 -2.8,0zM1241.2,591.7v13.2a1.4,1.4 0 0 0 2.8,0v-13.2a1.4,1.4 0 0 0 -2.8,0zM1241.8,651.9v13.2a1.4,1.4 0 0 0 2.8,0v-13.2a1.4,1.4 0 0 0 -2.8,0z" fill="#b2b2ae" stroke="#968a44" stroke-width="0.9"/>
<path d="M953.3,609.2v10.2a1.4,1.4 0 0 0 2.8,0v-10.2a1.4,1.4 0 0 0 -2.8,0zM953.9,668.4v12.2a1.4,1.4 0 0 0 2.8,0v-12.2a1.4,1.4 0 0 0 -2.8,0zM953.2,684.2v3.0a1.4,1.4 0 0 0 2.8,0v-3.0a1.4,1.4 0 0 0 -2.8,0zM958.9,542.6v13.2a1.4,1.4 0 0 0 2.8,0v-13.2a1.4,1.4 0 0 0 -2.8,0zM958.7,576.2v13.2a1.4,1.4 0 0 0 2.8,0v-13.2a1.4,1.4 0 0 0 -2.8,0zM958.6,647.2v11.2a1.4,1.4 0 0 0 2.8,0v-11.2a1.4,1.4 0 0 0 -2.8,0zM958.7,662.0v11.2a1.4,1.4 0 0 0 2.8,0v-11.2a1.4,1.4 0 0 0 -2.8,0zM964.6,652.7v13.2a1.4,1.4 0 0 0 2.8,0v-13.2a1.4,1.4 0 0 0 -2.8,0zM965.0,669.5v9.2a1.4,1.4 0 0 0 2.8,0v-9.2a1.4,1.4 0 0 0 -2.8,0zM972.6,576.7v12.2a1.4,1.4 0 0 0 2.8,0v-12.2a1.4,1.4 0 0 0 -2.8,0zM972.5,664.5v9.2a1.4,1.4 0 0 0 2.8,0v-9.2a1.4,1.4 0 0 0 -2.8,0zM972.6,677.3v9.9a1.4,1.4 0 0 0 2.8,0v-9.9a1.4,1.4 0 0 0 -2.8,0zM980.1,592.0v9.2a1.4,1.4 0 0 0 2.8,0v-9.2a1.4,1.4 0 0 0 -2.8,0zM979.6,632.4v9.2a1.4,1.4 0 0 0 2.8,0v-9.2a1.4,1.4 0 0 0 -2.8,0zM988.9,651.7v11.2a1.4,1.4 0 0 0 2.8,0v-11.2a1.4,1.4 0 0 0 -2.8,0zM989.0,680.3v6.9a1.4,1.4 0 0 0 2.8,0v-6.9a1.4,1.4 0 0 0 -2.8,0zM997.7,678.8v8.4a1.4,1.4 0 0 0 2.8,0v-8.4a1.4,1.4 0 0 0 -2.8,0zM1031.2,642.1v11.2a1.4,1.4 0 0 0 2.8,0v-11.2a1.4,1.4 0 0 0 -2.8,0zM1057.7,684.0v3.2a1.4,1.4 0 0 0 2.8,0v-3.2a1.4,1.4 0 0 0 -2.8,0zM1100.3,659.4v11.2a1.4,1.4 0 0 0 2.8,0v-11.2a1.4,1.4 0 0 0 -2.8,0zM1128.6,653.1v10.2a1.4,1.4 0 0 0 2.8,0v-10.2a1.4,1.4 0 0 0 -2.8,0zM1128.9,666.9v12.2a1.4,1.4 0 0 0 2.8,0v-12.2a1.4,1.4 0 0 0 -2.8,0zM1156.6,642.1v11.2a1.4,1.4 0 0 0 2.8,0v-11.2a1.4,1.4 0 0 0 -2.8,0zM1168.7,635.1v13.2a1.4,1.4 0 0 0 2.8,0v-13.2a1.4,1.4 0 0 0 -2.8,0zM1169.2,668.7v10.2a1.4,1.4 0 0 0 2.8,0v-10.2a1.4,1.4 0 0 0 -2.8,0zM1181.5,625.0v9.2a1.4,1.4 0 0 0 2.8,0v-9.2a1.4,1.4 0 0 0 -2.8,0zM1181.5,637.8v12.2a1.4,1.4 0 0 0 2.8,0v-12.2a1.4,1.4 0 0 0 -2.8,0zM1181.8,653.6v13.2a1.4,1.4 0 0 0 2.8,0v-13.2a1.4,1.4 0 0 0 -2.8,0zM1181.7,670.4v11.2a1.4,1.4 0 0 0 2.8,0v-11.2a1.4,1.4 0 0 0 -2.8,0zM1192.8,615.7v13.2a1.4,1.4 0 0 0 2.8,0v-13.2a1.4,1.4 0 0 0 -2.8,0zM1192.4,661.1v13.2a1.4,1.4 0 0 0 2.8,0v-13.2a1.4,1.4 0 0 0 -2.8,0zM1192.7,677.9v9.3a1.4,1.4 0 0 0 2.8,0v-9.3a1.4,1.4 0 0 0 -2.8,0zM1203.9,660.7v10.2a1.4,1.4 0 0 0 2.8,0v-10.2a1.4,1.4 0 0 0 -2.8,0zM1203.7,674.5v11.2a1.4,1.4 0 0 0 2.8,0v-11.2a1.4,1.4 0 0 0 -2.8,0zM1223.0,578.6v10.2a1.4,1.4 0 0 0 2.8,0v-10.2a1.4,1.4 0 0 0 -2.8,0zM1222.7,637.8v9.2a1.4,1.4 0 0 0 2.8,0v-9.2a1.4,1.4 0 0 0 -2.8,0zM1222.7,666.4v11.2a1.4,1.4 0 0 0 2.8,0v-11.2a1.4,1.4 0 0 0 -2.8,0zM1230.3,581.1v12.2a1.4,1.4 0 0 0 2.8,0v-12.2a1.4,1.4 0 0 0 -2.8,0zM1241.9,636.1v12.2a1.4,1.4 0 0 0 2.8,0v-12.2a1.4,1.4 0 0 0 -2.8,0z" fill="#b2b2ae" stroke="#4c6890" stroke-width="0.9"/>
<path d="M964.8,559.9v10.2a1.4,1.4 0 0 0 2.8,0v-10.2a1.4,1.4 0 0 0 -2.8,0zM964.6,573.7v13.2a1.4,1.4 0 0 0 2.8,0v-13.2a1.4,1.4 0 0 0 -2.8,0zM964.8,590.5v11.2a1.4,1.4 0 0 0 2.8,0v-11.2a1.4,1.4 0 0 0 -2.8,0zM965.1,622.1v13.2a1.4,1.4 0 0 0 2.8,0v-13.2a1.4,1.4 0 0 0 -2.8,0zM972.7,637.9v10.2a1.4,1.4 0 0 0 2.8,0v-10.2a1.4,1.4 0 0 0 -2.8,0zM979.7,660.0v10.2a1.4,1.4 0 0 0 2.8,0v-10.2a1.4,1.4 0 0 0 -2.8,0zM979.6,673.8v11.2a1.4,1.4 0 0 0 2.8,0v-11.2a1.4,1.4 0 0 0 -2.8,0zM1008.8,625.8v10.2a1.4,1.4 0 0 0 2.8,0v-10.2a1.4,1.4 0 0 0 -2.8,0zM1043.6,649.6v12.2a1.4,1.4 0 0 0 2.8,0v-12.2a1.4,1.4 0 0 0 -2.8,0zM1071.4,658.5v12.2a1.4,1.4 0 0 0 2.8,0v-12.2a1.4,1.4 0 0 0 -2.8,0zM1093.5,659.4v10.2a1.4,1.4 0 0 0 2.8,0v-10.2a1.4,1.4 0 0 0 -2.8,0zM1093.4,673.2v10.2a1.4,1.4 0 0 0 2.8,0v-10.2a1.4,1.4 0 0 0 -2.8,0zM1222.8,623.0v11.2a1.4,1.4 0 0 0 2.8,0v-11.2a1.4,1.4 0 0 0 -2.8,0zM1236.6,550.1v9.2a1.4,1.4 0 0 0 2.8,0v-9.2a1.4,1.4 0 0 0 -2.8,0zM1236.4,631.9v9.2a1.4,1.4 0 0 0 2.8,0v-9.2a1.4,1.4 0 0 0 -2.8,0zM1236.7,659.5v10.2a1.4,1.4 0 0 0 2.8,0v-10.2a1.4,1.4 0 0 0 -2.8,0zM1241.7,576.9v11.2a1.4,1.4 0 0 0 2.8,0v-11.2a1.4,1.4 0 0 0 -2.8,0z" fill="#b2b2ae" stroke="#a06a44" stroke-width="0.9"/>
<polyline points="955.0,517.0 956.3,529.5 965.0,554.6 975.0,577.0 985.0,597.0 1000.1,614.6 1020.1,632.2 1045.2,647.2 1070.2,656.0 1100.2,657.2 1117.8,654.7 1145.3,645.9 1167.8,634.7 1192.8,614.6 1215.4,592.1 1230.4,564.6 1240.4,542.1 1246.7,519.5" fill="none" stroke="#505054" stroke-width="3.0" stroke-linejoin="round"/>
<polyline points="955.0,517.0 956.3,529.5 965.0,554.6 975.0,577.0 985.0,597.0 1000.1,614.6 1020.1,632.2 1045.2,647.2 1070.2,656.0 1100.2,657.2 1117.8,654.7 1145.3,645.9 1167.8,634.7 1192.8,614.6 1215.4,592.1 1230.4,564.6 1240.4,542.1 1246.7,519.5" fill="none" stroke="#94948f" stroke-width="0.9" stroke-linejoin="round"/>
<polyline points="955.0,517.0 956.3,529.5 965.0,554.6 975.0,577.0 985.0,597.0 1000.1,614.6 1020.1,632.2 1045.2,647.2 1070.2,656.0 1100.2,657.2 1117.8,654.7 1145.3,645.9 1167.8,634.7 1192.8,614.6 1215.4,592.1 1230.4,564.6 1240.4,542.1 1246.7,519.5" fill="none" stroke="#a07060" stroke-width="3.4" stroke-dasharray="2,14,3,9" stroke-opacity="0.6" stroke-linejoin="round"/>
<path d="M1099,645.2V509M1094.5,514L1099,508.5L1103.5,514M1092.5,517H1105.5" stroke="#1e1e1e" stroke-width="1.3" fill="none"/>
<path d="M1096.5,645.2H1278M1266,640.7L1278,645.2L1266,649.7M1246,640.2V650.2" stroke="#1e1e1e" stroke-width="2" fill="none"/>
<rect x="940" y="504.3" width="33.8" height="10.2" rx="2" fill="#1c1a1a"/>
<rect x="1230.9" y="504.3" width="35.8" height="5.7" rx="2" fill="#1c1a1a"/>
</svg>
<path d="M898.65,885.35L915.35,902.05M898.65,902.05L915.35,885.35" stroke="#000" stroke-width="5.2" stroke-linecap="butt" fill="none"/>
<path d="M950.75,883.85L967.45,900.55M950.75,900.55L967.45,883.85" stroke="#000" stroke-width="5.2" stroke-linecap="butt" fill="none"/>
<path d="M1007.35,875.55L1024.05,892.25M1007.35,892.25L1024.05,875.55" stroke="#000" stroke-width="5.2" stroke-linecap="butt" fill="none"/>
<path d="M1061.25,862.55L1077.95,879.25M1061.25,879.25L1077.95,862.55" stroke="#000" stroke-width="5.2" stroke-linecap="butt" fill="none"/>
<path d="M1114.65,847.05L1131.35,863.75M1114.65,863.75L1131.35,847.05" stroke="#000" stroke-width="5.2" stroke-linecap="butt" fill="none"/>
<path d="M1167.65,825.35L1184.35,842.05M1167.65,842.05L1184.35,825.35" stroke="#000" stroke-width="5.2" stroke-linecap="butt" fill="none"/>
<path d="M1217.65,803.15L1234.35,819.85M1217.65,819.85L1234.35,803.15" stroke="#000" stroke-width="5.2" stroke-linecap="butt" fill="none"/>
<path d="M1264.75,774.05L1281.45,790.75M1264.75,790.75L1281.45,774.05" stroke="#000" stroke-width="5.2" stroke-linecap="butt" fill="none"/>
<path d="M1307.65,743.05L1324.35,759.75M1307.65,759.75L1324.35,743.05" stroke="#000" stroke-width="5.2" stroke-linecap="butt" fill="none"/>
<path d="M1345.05,713.95L1361.75,730.65M1345.05,730.65L1361.75,713.95" stroke="#000" stroke-width="5.2" stroke-linecap="butt" fill="none"/>
<path d="M1384.65,674.35L1401.35,691.05M1384.65,691.05L1401.35,674.35" stroke="#000" stroke-width="5.2" stroke-linecap="butt" fill="none"/>
<path d="M1413.75,637.55L1430.45,654.25M1413.75,654.25L1430.45,637.55" stroke="#000" stroke-width="5.2" stroke-linecap="butt" fill="none"/>
<path d="M1441.15,594.05L1457.85,610.75M1441.15,610.75L1457.85,594.05" stroke="#000" stroke-width="5.2" stroke-linecap="butt" fill="none"/>
<path d="M1462.25,552.05L1478.95,568.75M1462.25,568.75L1478.95,552.05" stroke="#000" stroke-width="5.2" stroke-linecap="butt" fill="none"/>
<path d="M1479.35,512.45L1496.05,529.15M1479.35,529.15L1496.05,512.45" stroke="#000" stroke-width="5.2" stroke-linecap="butt" fill="none"/>
<path d="M906.80,893.90C917.33,893.32 950.05,892.07 970.00,890.40C989.95,888.73 1006.93,886.43 1026.50,883.90C1046.07,881.37 1068.23,879.28 1087.40,875.20C1106.57,871.12 1125.55,864.72 1141.50,859.40C1157.45,854.08 1169.25,848.98 1183.10,843.30C1196.95,837.62 1210.75,832.22 1224.60,825.30C1238.45,818.38 1252.35,809.63 1266.20,801.80C1280.05,793.97 1293.85,787.53 1307.70,778.30C1321.55,769.07 1335.45,757.25 1349.30,746.40C1363.15,735.55 1376.95,726.58 1390.80,713.20C1404.65,699.82 1420.85,681.78 1432.40,666.10C1443.95,650.42 1452.27,637.55 1460.10,619.10C1467.93,600.65 1475.02,570.63 1479.40,555.40C1483.78,540.17 1484.88,533.45 1486.40,527.70C1487.92,521.95 1488.15,522.03 1488.50,520.90" fill="none" stroke="#ff0000" stroke-width="5.56" stroke-dasharray="5.56,9.17" stroke-linecap="butt"/>
<rect x="878.2" y="502.05" width="638.40" height="409.95" fill="none" stroke="#000" stroke-width="2.0"/>
<line x1="868.20" y1="894.00" x2="878.20" y2="894.00" stroke="#000" stroke-width="2.0"/>
<text x="857.70" y="902.70" font-size="27.78" text-anchor="end" >0.0</text>
<line x1="868.20" y1="819.38" x2="878.20" y2="819.38" stroke="#000" stroke-width="2.0"/>
<text x="857.70" y="828.08" font-size="27.78" text-anchor="end" >0.2</text>
<line x1="868.20" y1="744.76" x2="878.20" y2="744.76" stroke="#000" stroke-width="2.0"/>
<text x="857.70" y="753.46" font-size="27.78" text-anchor="end" >0.4</text>
<line x1="868.20" y1="670.14" x2="878.20" y2="670.14" stroke="#000" stroke-width="2.0"/>
<text x="857.70" y="678.84" font-size="27.78" text-anchor="end" >0.6</text>
<line x1="868.20" y1="595.52" x2="878.20" y2="595.52" stroke="#000" stroke-width="2.0"/>
<text x="857.70" y="604.22" font-size="27.78" text-anchor="end" >0.8</text>
<line x1="868.20" y1="520.90" x2="878.20" y2="520.90" stroke="#000" stroke-width="2.0"/>
<text x="857.70" y="529.60" font-size="27.78" text-anchor="end" >1.0</text>
<text transform="translate(805.5,707.02) rotate(-90)" font-size="33.33" text-anchor="middle"><tspan font-style="italic">y</tspan>(<tspan font-style="italic">x</tspan>)/<tspan font-style="italic">y</tspan>(<tspan font-style="italic">W</tspan>/2)</text>
<text x="878.50" y="528.85" font-size="33.33" text-anchor="start" >(d)</text>
<g clip-path="url(#clipL2)"><path d="M111.95,1404.05V1404.05H134.75V1404.05" fill="#cc33cc" stroke="#000" stroke-width="2.2" stroke-linejoin="miter"/><path d="M134.75,1404.05V1402.56H180.34V1404.05" fill="#cc33cc" stroke="#000" stroke-width="2.2" stroke-linejoin="miter"/><path d="M180.34,1404.05V1402.56H225.93V1404.05" fill="#cc33cc" stroke="#000" stroke-width="2.2" stroke-linejoin="miter"/><path d="M225.93,1404.05V1400.84H271.52V1404.05" fill="#cc33cc" stroke="#000" stroke-width="2.2" stroke-linejoin="miter"/><path d="M271.52,1404.05V1403.30H317.12V1404.05" fill="#cc33cc" stroke="#000" stroke-width="2.2" stroke-linejoin="miter"/><path d="M317.12,1404.05V1210.63H362.71V1404.05" fill="#cc33cc" stroke="#000" stroke-width="2.2" stroke-linejoin="miter"/><path d="M362.71,1404.05V1326.53H408.30V1404.05" fill="#cc33cc" stroke="#000" stroke-width="2.2" stroke-linejoin="miter"/><path d="M408.30,1404.05V1365.22H453.90V1404.05" fill="#cc33cc" stroke="#000" stroke-width="2.2" stroke-linejoin="miter"/><path d="M453.90,1404.05V1380.01H499.49V1404.05" fill="#cc33cc" stroke="#000" stroke-width="2.2" stroke-linejoin="miter"/><path d="M499.49,1404.05V1390.00H545.08V1404.05" fill="#cc33cc" stroke="#000" stroke-width="2.2" stroke-linejoin="miter"/><path d="M545.08,1404.05V1396.30H590.67V1404.05" fill="#cc33cc" stroke="#000" stroke-width="2.2" stroke-linejoin="miter"/><path d="M590.67,1404.05V1401.11H636.27V1404.05" fill="#cc33cc" stroke="#000" stroke-width="2.2" stroke-linejoin="miter"/><path d="M636.27,1404.05V1402.93H681.86V1404.05" fill="#cc33cc" stroke="#000" stroke-width="2.2" stroke-linejoin="miter"/><path d="M681.86,1404.05V1402.93H727.45V1404.05" fill="#cc33cc" stroke="#000" stroke-width="2.2" stroke-linejoin="miter"/><path d="M727.45,1404.05V1402.93H750.25V1404.05" fill="#cc33cc" stroke="#000" stroke-width="2.2" stroke-linejoin="miter"/></g>
<clipPath id="clipL2"><rect x="111.95" y="994.1" width="638.3" height="409.95"/></clipPath>
<rect x="111.95" y="994.1" width="638.30" height="409.95" fill="none" stroke="#000" stroke-width="2.0"/>
<line x1="101.95" y1="1404.05" x2="111.95" y2="1404.05" stroke="#000" stroke-width="2.0"/>
<text x="91.45" y="1412.75" font-size="27.78" text-anchor="end" >0.0</text>
<line x1="101.95" y1="1329.51" x2="111.95" y2="1329.51" stroke="#000" stroke-width="2.0"/>
<text x="91.45" y="1338.21" font-size="27.78" text-anchor="end" >0.2</text>
<line x1="101.95" y1="1254.98" x2="111.95" y2="1254.98" stroke="#000" stroke-width="2.0"/>
<text x="91.45" y="1263.68" font-size="27.78" text-anchor="end" >0.4</text>
<line x1="101.95" y1="1180.44" x2="111.95" y2="1180.44" stroke="#000" stroke-width="2.0"/>
<text x="91.45" y="1189.14" font-size="27.78" text-anchor="end" >0.6</text>
<line x1="101.95" y1="1105.90" x2="111.95" y2="1105.90" stroke="#000" stroke-width="2.0"/>
<text x="91.45" y="1114.60" font-size="27.78" text-anchor="end" >0.8</text>
<line x1="101.95" y1="1031.37" x2="111.95" y2="1031.37" stroke="#000" stroke-width="2.0"/>
<text x="91.45" y="1040.07" font-size="27.78" text-anchor="end" >1.0</text>
<text transform="translate(38.0,1209.08) rotate(-90)" font-size="33.33" font-style="italic">f<tspan font-size="23.33" dx="3.5" dy="6">j</tspan></text>
<text x="112.15" y="1020.90" font-size="33.33" text-anchor="start" >(e)</text>
<line x1="111.95" y1="1404.05" x2="111.95" y2="1414.05" stroke="#000" stroke-width="2.0"/>
<text x="111.95" y="1443.05" font-size="27.78" text-anchor="middle" >15</text>
<line x1="157.54" y1="1404.05" x2="157.54" y2="1414.05" stroke="#000" stroke-width="2.0"/>
<text x="157.54" y="1443.05" font-size="27.78" text-anchor="middle" >16</text>
<line x1="203.14" y1="1404.05" x2="203.14" y2="1414.05" stroke="#000" stroke-width="2.0"/>
<text x="203.14" y="1443.05" font-size="27.78" text-anchor="middle" >17</text>
<line x1="248.73" y1="1404.05" x2="248.73" y2="1414.05" stroke="#000" stroke-width="2.0"/>
<text x="248.73" y="1443.05" font-size="27.78" text-anchor="middle" >18</text>
<line x1="294.32" y1="1404.05" x2="294.32" y2="1414.05" stroke="#000" stroke-width="2.0"/>
<text x="294.32" y="1443.05" font-size="27.78" text-anchor="middle" >19</text>
<line x1="339.91" y1="1404.05" x2="339.91" y2="1414.05" stroke="#000" stroke-width="2.0"/>
<text x="339.91" y="1443.05" font-size="27.78" text-anchor="middle" >20</text>
<line x1="385.51" y1="1404.05" x2="385.51" y2="1414.05" stroke="#000" stroke-width="2.0"/>
<text x="385.51" y="1443.05" font-size="27.78" text-anchor="middle" >21</text>
<line x1="431.10" y1="1404.05" x2="431.10" y2="1414.05" stroke="#000" stroke-width="2.0"/>
<text x="431.10" y="1443.05" font-size="27.78" text-anchor="middle" >22</text>
<line x1="476.69" y1="1404.05" x2="476.69" y2="1414.05" stroke="#000" stroke-width="2.0"/>
<text x="476.69" y="1443.05" font-size="27.78" text-anchor="middle" >23</text>
<line x1="522.29" y1="1404.05" x2="522.29" y2="1414.05" stroke="#000" stroke-width="2.0"/>
<text x="522.29" y="1443.05" font-size="27.78" text-anchor="middle" >24</text>
<line x1="567.88" y1="1404.05" x2="567.88" y2="1414.05" stroke="#000" stroke-width="2.0"/>
<text x="567.88" y="1443.05" font-size="27.78" text-anchor="middle" >25</text>
<line x1="613.47" y1="1404.05" x2="613.47" y2="1414.05" stroke="#000" stroke-width="2.0"/>
<text x="613.47" y="1443.05" font-size="27.78" text-anchor="middle" >26</text>
<line x1="659.06" y1="1404.05" x2="659.06" y2="1414.05" stroke="#000" stroke-width="2.0"/>
<text x="659.06" y="1443.05" font-size="27.78" text-anchor="middle" >27</text>
<line x1="704.66" y1="1404.05" x2="704.66" y2="1414.05" stroke="#000" stroke-width="2.0"/>
<text x="704.66" y="1443.05" font-size="27.78" text-anchor="middle" >28</text>
<line x1="750.25" y1="1404.05" x2="750.25" y2="1414.05" stroke="#000" stroke-width="2.0"/>
<text x="750.25" y="1443.05" font-size="27.78" text-anchor="middle" >29</text>
<text x="432.5" y="1480.5" font-size="33.33" font-style="italic" text-anchor="middle">j</text>
<rect x="188.0" y="1006.19" width="287.70" height="123.66" fill="#fff" stroke="none"/>
<polygon points="331.85,1109.82 333.73,1115.23 339.46,1115.35 334.89,1118.81 336.55,1124.29 331.85,1121.02 327.15,1124.29 328.81,1118.81 324.24,1115.35 329.97,1115.23" fill="#000" stroke="#000" stroke-width="2" stroke-linejoin="round"/>
<polyline points="207.18,1016.85 216.77,1083.45 226.36,1101.55 235.95,1109.33 245.54,1112.50 255.13,1114.04 264.72,1115.77 274.31,1116.80 283.90,1117.31 293.49,1117.31 303.08,1117.62 312.67,1117.62 322.26,1117.82 331.85,1117.82 341.44,1117.82 351.03,1117.92 360.62,1117.92 370.21,1118.02 379.80,1118.33 389.39,1118.13 398.98,1118.13 408.57,1118.23 418.16,1118.23 427.75,1118.33 437.34,1118.43 446.93,1118.43 456.52,1118.54 466.11,1118.43 475.70,1118.64" fill="none" stroke="#bf00bf" stroke-width="2.1" stroke-linejoin="round"/>
<rect x="188.0" y="1006.19" width="287.70" height="123.66" fill="none" stroke="#000" stroke-width="2.0"/>
<line x1="178.00" y1="1119.15" x2="188.00" y2="1119.15" stroke="#000" stroke-width="2.0"/>
<text x="167.50" y="1127.85" font-size="27.78" text-anchor="end" >0</text>
<line x1="178.00" y1="1016.85" x2="188.00" y2="1016.85" stroke="#000" stroke-width="2.0"/>
<text x="167.50" y="1025.55" font-size="27.78" text-anchor="end" >1</text>
<line x1="188.00" y1="1129.85" x2="188.00" y2="1139.85" stroke="#000" stroke-width="2.0"/>
<text x="188.00" y="1167.75" font-size="27.78" text-anchor="middle" >0</text>
<line x1="283.90" y1="1129.85" x2="283.90" y2="1139.85" stroke="#000" stroke-width="2.0"/>
<text x="283.90" y="1167.75" font-size="27.78" text-anchor="middle" >10</text>
<line x1="379.80" y1="1129.85" x2="379.80" y2="1139.85" stroke="#000" stroke-width="2.0"/>
<text x="379.80" y="1167.75" font-size="27.78" text-anchor="middle" >20</text>
<line x1="475.70" y1="1129.85" x2="475.70" y2="1139.85" stroke="#000" stroke-width="2.0"/>
<text x="475.70" y="1167.75" font-size="27.78" text-anchor="middle" >30</text>
<text x="331.5" y="1199.10" font-size="33.33" text-anchor="middle">(<tspan font-style="italic">N</tspan><tspan dx="5.15" dy="3.8" font-size="41.7">+</tspan><tspan dx="5.15" dy="-3.8">1)/2</tspan></text>
<text transform="translate(147.5,1069.60) rotate(-90)" font-size="33.33" font-style="italic" text-anchor="middle">α</text>
<svg x="922.0" y="999.15" width="364.70" height="181.50" viewBox="922.0 999.15 364.70 181.50" overflow="hidden">
<rect x="922.0" y="999.15" width="364.70" height="181.50" fill="#7c7b76"/>
<rect x="922.0" y="999.15" width="364.70" height="181.50" fill="url(#vig)"/>
<ellipse cx="1080" cy="1180" rx="25" ry="10" fill="url(#glare)" opacity="0.45"/>
<path d="M961.0,1035.1v9.2a1.4,1.4 0 0 0 2.8,0v-9.2a1.4,1.4 0 0 0 -2.8,0zM960.9,1047.9v6.3a1.4,1.4 0 0 0 2.8,0v-6.3a1.4,1.4 0 0 0 -2.8,0zM976.9,1074.2v6.4a1.4,1.4 0 0 0 2.8,0v-6.4a1.4,1.4 0 0 0 -2.8,0zM984.7,1083.3v8.3a1.4,1.4 0 0 0 2.8,0v-8.3a1.4,1.4 0 0 0 -2.8,0zM992.8,1097.7v10.2a1.4,1.4 0 0 0 2.8,0v-10.2a1.4,1.4 0 0 0 -2.8,0zM1001.4,1141.1v10.2a1.4,1.4 0 0 0 2.8,0v-10.2a1.4,1.4 0 0 0 -2.8,0zM1008.9,1117.6v10.2a1.4,1.4 0 0 0 2.8,0v-10.2a1.4,1.4 0 0 0 -2.8,0zM1008.5,1131.4v10.2a1.4,1.4 0 0 0 2.8,0v-10.2a1.4,1.4 0 0 0 -2.8,0zM1008.7,1145.2v13.2a1.4,1.4 0 0 0 2.8,0v-13.2a1.4,1.4 0 0 0 -2.8,0zM1017.9,1135.7v10.2a1.4,1.4 0 0 0 2.8,0v-10.2a1.4,1.4 0 0 0 -2.8,0zM1018.5,1149.5v11.2a1.4,1.4 0 0 0 2.8,0v-11.2a1.4,1.4 0 0 0 -2.8,0zM1018.0,1177.1v3.0a1.4,1.4 0 0 0 2.8,0v-3.0a1.4,1.4 0 0 0 -2.8,0zM1038.3,1163.6v12.2a1.4,1.4 0 0 0 2.8,0v-12.2a1.4,1.4 0 0 0 -2.8,0zM1145.8,1161.1v11.2a1.4,1.4 0 0 0 2.8,0v-11.2a1.4,1.4 0 0 0 -2.8,0zM1148.8,1145.1v10.2a1.4,1.4 0 0 0 2.8,0v-10.2a1.4,1.4 0 0 0 -2.8,0zM1157.8,1132.8v11.2a1.4,1.4 0 0 0 2.8,0v-11.2a1.4,1.4 0 0 0 -2.8,0zM1167.5,1120.3v11.2a1.4,1.4 0 0 0 2.8,0v-11.2a1.4,1.4 0 0 0 -2.8,0zM1177.1,1163.1v10.2a1.4,1.4 0 0 0 2.8,0v-10.2a1.4,1.4 0 0 0 -2.8,0zM1187.1,1095.3v10.2a1.4,1.4 0 0 0 2.8,0v-10.2a1.4,1.4 0 0 0 -2.8,0zM1187.1,1124.9v11.2a1.4,1.4 0 0 0 2.8,0v-11.2a1.4,1.4 0 0 0 -2.8,0zM1186.7,1153.5v13.2a1.4,1.4 0 0 0 2.8,0v-13.2a1.4,1.4 0 0 0 -2.8,0zM1186.7,1170.3v9.2a1.4,1.4 0 0 0 2.8,0v-9.2a1.4,1.4 0 0 0 -2.8,0zM1205.7,1071.1v9.2a1.4,1.4 0 0 0 2.8,0v-9.2a1.4,1.4 0 0 0 -2.8,0zM1223.1,1048.8v9.2a1.4,1.4 0 0 0 2.8,0v-9.2a1.4,1.4 0 0 0 -2.8,0zM1222.8,1061.6v2.0a1.4,1.4 0 0 0 2.8,0v-2.0a1.4,1.4 0 0 0 -2.8,0zM1232.4,1037.1v10.2a1.4,1.4 0 0 0 2.8,0v-10.2a1.4,1.4 0 0 0 -2.8,0z" fill="#b2b2ae" stroke="#4c6890" stroke-width="0.9"/>
<path d="M969.3,1047.7v9.2a1.4,1.4 0 0 0 2.8,0v-9.2a1.4,1.4 0 0 0 -2.8,0zM969.6,1060.5v6.1a1.4,1.4 0 0 0 2.8,0v-6.1a1.4,1.4 0 0 0 -2.8,0zM993.3,1126.3v10.2a1.4,1.4 0 0 0 2.8,0v-10.2a1.4,1.4 0 0 0 -2.8,0zM1028.3,1175.5v4.6a1.4,1.4 0 0 0 2.8,0v-4.6a1.4,1.4 0 0 0 -2.8,0zM1035.3,1160.9v13.2a1.4,1.4 0 0 0 2.8,0v-13.2a1.4,1.4 0 0 0 -2.8,0zM1040.8,1150.1v13.2a1.4,1.4 0 0 0 2.8,0v-13.2a1.4,1.4 0 0 0 -2.8,0zM1040.9,1166.9v9.2a1.4,1.4 0 0 0 2.8,0v-9.2a1.4,1.4 0 0 0 -2.8,0zM1143.5,1149.6v13.2a1.4,1.4 0 0 0 2.8,0v-13.2a1.4,1.4 0 0 0 -2.8,0zM1145.8,1148.3v9.2a1.4,1.4 0 0 0 2.8,0v-9.2a1.4,1.4 0 0 0 -2.8,0zM1158.2,1161.4v11.2a1.4,1.4 0 0 0 2.8,0v-11.2a1.4,1.4 0 0 0 -2.8,0zM1167.7,1135.1v13.2a1.4,1.4 0 0 0 2.8,0v-13.2a1.4,1.4 0 0 0 -2.8,0zM1177.3,1122.7v9.2a1.4,1.4 0 0 0 2.8,0v-9.2a1.4,1.4 0 0 0 -2.8,0zM1177.3,1176.9v3.2a1.4,1.4 0 0 0 2.8,0v-3.2a1.4,1.4 0 0 0 -2.8,0zM1196.2,1112.2v10.2a1.4,1.4 0 0 0 2.8,0v-10.2a1.4,1.4 0 0 0 -2.8,0zM1214.8,1059.6v11.2a1.4,1.4 0 0 0 2.8,0v-11.2a1.4,1.4 0 0 0 -2.8,0z" fill="#b2b2ae" stroke="#968a44" stroke-width="0.9"/>
<path d="M976.7,1058.4v12.2a1.4,1.4 0 0 0 2.8,0v-12.2a1.4,1.4 0 0 0 -2.8,0zM992.6,1140.1v9.2a1.4,1.4 0 0 0 2.8,0v-9.2a1.4,1.4 0 0 0 -2.8,0zM1001.9,1094.7v12.2a1.4,1.4 0 0 0 2.8,0v-12.2a1.4,1.4 0 0 0 -2.8,0zM1001.7,1110.5v13.2a1.4,1.4 0 0 0 2.8,0v-13.2a1.4,1.4 0 0 0 -2.8,0zM1001.4,1127.3v10.2a1.4,1.4 0 0 0 2.8,0v-10.2a1.4,1.4 0 0 0 -2.8,0zM1028.2,1133.1v11.2a1.4,1.4 0 0 0 2.8,0v-11.2a1.4,1.4 0 0 0 -2.8,0zM1143.9,1166.4v13.2a1.4,1.4 0 0 0 2.8,0v-13.2a1.4,1.4 0 0 0 -2.8,0zM1146.0,1175.9v4.2a1.4,1.4 0 0 0 2.8,0v-4.2a1.4,1.4 0 0 0 -2.8,0zM1158.2,1176.2v3.9a1.4,1.4 0 0 0 2.8,0v-3.9a1.4,1.4 0 0 0 -2.8,0zM1168.0,1151.9v9.2a1.4,1.4 0 0 0 2.8,0v-9.2a1.4,1.4 0 0 0 -2.8,0zM1167.6,1164.7v11.2a1.4,1.4 0 0 0 2.8,0v-11.2a1.4,1.4 0 0 0 -2.8,0zM1177.0,1107.9v11.2a1.4,1.4 0 0 0 2.8,0v-11.2a1.4,1.4 0 0 0 -2.8,0zM1177.0,1135.5v11.2a1.4,1.4 0 0 0 2.8,0v-11.2a1.4,1.4 0 0 0 -2.8,0zM1177.3,1150.3v9.2a1.4,1.4 0 0 0 2.8,0v-9.2a1.4,1.4 0 0 0 -2.8,0zM1196.5,1097.4v11.2a1.4,1.4 0 0 0 2.8,0v-11.2a1.4,1.4 0 0 0 -2.8,0zM1214.9,1074.4v3.2a1.4,1.4 0 0 0 2.8,0v-3.2a1.4,1.4 0 0 0 -2.8,0z" fill="#b2b2ae" stroke="#5a5a5c" stroke-width="0.9"/>
<path d="M985.4,1070.5v9.2a1.4,1.4 0 0 0 2.8,0v-9.2a1.4,1.4 0 0 0 -2.8,0zM993.2,1081.9v12.2a1.4,1.4 0 0 0 2.8,0v-12.2a1.4,1.4 0 0 0 -2.8,0zM993.1,1111.5v11.2a1.4,1.4 0 0 0 2.8,0v-11.2a1.4,1.4 0 0 0 -2.8,0zM1001.7,1168.7v11.2a1.4,1.4 0 0 0 2.8,0v-11.2a1.4,1.4 0 0 0 -2.8,0zM1008.4,1104.8v9.2a1.4,1.4 0 0 0 2.8,0v-9.2a1.4,1.4 0 0 0 -2.8,0zM1018.2,1164.3v9.2a1.4,1.4 0 0 0 2.8,0v-9.2a1.4,1.4 0 0 0 -2.8,0zM1035.3,1144.1v13.2a1.4,1.4 0 0 0 2.8,0v-13.2a1.4,1.4 0 0 0 -2.8,0zM1035.5,1177.7v2.4a1.4,1.4 0 0 0 2.8,0v-2.4a1.4,1.4 0 0 0 -2.8,0zM1038.2,1147.8v12.2a1.4,1.4 0 0 0 2.8,0v-12.2a1.4,1.4 0 0 0 -2.8,0zM1148.5,1158.9v12.2a1.4,1.4 0 0 0 2.8,0v-12.2a1.4,1.4 0 0 0 -2.8,0zM1148.4,1174.7v5.4a1.4,1.4 0 0 0 2.8,0v-5.4a1.4,1.4 0 0 0 -2.8,0zM1158.0,1147.6v10.2a1.4,1.4 0 0 0 2.8,0v-10.2a1.4,1.4 0 0 0 -2.8,0zM1195.8,1126.0v13.2a1.4,1.4 0 0 0 2.8,0v-13.2a1.4,1.4 0 0 0 -2.8,0zM1196.0,1142.8v6.8a1.4,1.4 0 0 0 2.8,0v-6.8a1.4,1.4 0 0 0 -2.8,0zM1205.9,1083.9v6.2a1.4,1.4 0 0 0 2.8,0v-6.2a1.4,1.4 0 0 0 -2.8,0z" fill="#b2b2ae" stroke="#8e4c4c" stroke-width="0.9"/>
<path d="M1002.1,1154.9v10.2a1.4,1.4 0 0 0 2.8,0v-10.2a1.4,1.4 0 0 0 -2.8,0zM1018.6,1118.9v13.2a1.4,1.4 0 0 0 2.8,0v-13.2a1.4,1.4 0 0 0 -2.8,0zM1028.2,1147.9v9.2a1.4,1.4 0 0 0 2.8,0v-9.2a1.4,1.4 0 0 0 -2.8,0zM1028.1,1160.7v11.2a1.4,1.4 0 0 0 2.8,0v-11.2a1.4,1.4 0 0 0 -2.8,0zM1052.0,1150.4v11.7a1.4,1.4 0 0 0 2.8,0v-11.7a1.4,1.4 0 0 0 -2.8,0z" fill="#b2b2ae" stroke="#a06a44" stroke-width="0.9"/>
<path d="M1130.2,1150.4v10.2a1.4,1.4 0 0 0 2.8,0v-10.2a1.4,1.4 0 0 0 -2.8,0zM1187.1,1109.1v12.2a1.4,1.4 0 0 0 2.8,0v-12.2a1.4,1.4 0 0 0 -2.8,0zM1187.0,1139.7v10.2a1.4,1.4 0 0 0 2.8,0v-10.2a1.4,1.4 0 0 0 -2.8,0zM1195.9,1083.6v10.2a1.4,1.4 0 0 0 2.8,0v-10.2a1.4,1.4 0 0 0 -2.8,0z" fill="#b2b2ae" stroke="#2e2e30" stroke-width="0.9"/>
<polyline points="947.5,1011.3 1040.2,1146.4 1040.2,1147.7 1100.2,1147.7" fill="none" stroke="#505054" stroke-width="3.0" stroke-linejoin="round"/>
<polyline points="947.5,1011.3 1040.2,1146.4 1040.2,1147.7 1100.2,1147.7" fill="none" stroke="#94948f" stroke-width="0.9" stroke-linejoin="round"/>
<polyline points="947.5,1011.3 1040.2,1146.4 1040.2,1147.7 1100.2,1147.7" fill="none" stroke="#a07060" stroke-width="3.4" stroke-dasharray="2,14,3,9" stroke-opacity="0.6" stroke-linejoin="round"/>
<polyline points="1116.5,1147.2 1146.5,1147.2 1251.7,1011.3" fill="none" stroke="#505054" stroke-width="3.0" stroke-linejoin="round"/>
<polyline points="1116.5,1147.2 1146.5,1147.2 1251.7,1011.3" fill="none" stroke="#94948f" stroke-width="0.9" stroke-linejoin="round"/>
<polyline points="1116.5,1147.2 1146.5,1147.2 1251.7,1011.3" fill="none" stroke="#a07060" stroke-width="3.4" stroke-dasharray="2,14,3,9" stroke-opacity="0.6" stroke-linejoin="round"/>
<path d="M1095,1136.4V1002M1090.5,1007L1095,1001.5L1099.5,1007M1088.5,1012H1101.5" stroke="#1e1e1e" stroke-width="1.3" fill="none"/>
<path d="M1095.2,1136.4H1284.2M1272.2,1131.9L1284.2,1136.4L1272.2,1140.9M1251,1131.4V1141.4" stroke="#1e1e1e" stroke-width="2" fill="none"/>
<rect x="931.3" y="996" width="35.0" height="12.8" rx="2" fill="#1c1a1a"/>
<rect x="1234.9" y="996" width="36.8" height="7.8" rx="2" fill="#1c1a1a"/>
</svg>
<path d="M898.45,1376.75L915.15,1393.45M898.45,1393.45L915.15,1376.75" stroke="#000" stroke-width="5.2" stroke-linecap="butt" fill="none"/>
<path d="M952.25,1375.45L968.95,1392.15M952.25,1392.15L968.95,1375.45" stroke="#000" stroke-width="5.2" stroke-linecap="butt" fill="none"/>
<path d="M1009.85,1376.75L1026.55,1393.45M1009.85,1393.45L1026.55,1376.75" stroke="#000" stroke-width="5.2" stroke-linecap="butt" fill="none"/>
<path d="M1067.05,1376.75L1083.75,1393.45M1067.05,1393.45L1083.75,1376.75" stroke="#000" stroke-width="5.2" stroke-linecap="butt" fill="none"/>
<path d="M1122.15,1365.25L1138.85,1381.95M1122.15,1381.95L1138.85,1365.25" stroke="#000" stroke-width="5.2" stroke-linecap="butt" fill="none"/>
<path d="M1168.75,1333.65L1185.45,1350.35M1168.75,1350.35L1185.45,1333.65" stroke="#000" stroke-width="5.2" stroke-linecap="butt" fill="none"/>
<path d="M1203.95,1300.55L1220.65,1317.25M1203.95,1317.25L1220.65,1300.55" stroke="#000" stroke-width="5.2" stroke-linecap="butt" fill="none"/>
<path d="M1241.85,1264.45L1258.55,1281.15M1241.85,1281.15L1258.55,1264.45" stroke="#000" stroke-width="5.2" stroke-linecap="butt" fill="none"/>
<path d="M1279.35,1224.35L1296.05,1241.05M1279.35,1241.05L1296.05,1224.35" stroke="#000" stroke-width="5.2" stroke-linecap="butt" fill="none"/>
<path d="M1313.25,1189.05L1329.95,1205.75M1313.25,1205.75L1329.95,1189.05" stroke="#000" stroke-width="5.2" stroke-linecap="butt" fill="none"/>
<path d="M1344.85,1154.35L1361.55,1171.05M1344.85,1171.05L1361.55,1154.35" stroke="#000" stroke-width="5.2" stroke-linecap="butt" fill="none"/>
<path d="M1378.15,1115.75L1394.85,1132.45M1378.15,1132.45L1394.85,1115.75" stroke="#000" stroke-width="5.2" stroke-linecap="butt" fill="none"/>
<path d="M1410.55,1079.05L1427.25,1095.75M1410.55,1095.75L1427.25,1079.05" stroke="#000" stroke-width="5.2" stroke-linecap="butt" fill="none"/>
<path d="M1444.45,1042.35L1461.15,1059.05M1444.45,1059.05L1461.15,1042.35" stroke="#000" stroke-width="5.2" stroke-linecap="butt" fill="none"/>
<path d="M1479.75,1004.25L1496.45,1020.95M1479.75,1020.95L1496.45,1004.25" stroke="#000" stroke-width="5.2" stroke-linecap="butt" fill="none"/>
<path d="M906.80,1385.90C922.33,1385.90 974.47,1385.95 1000.00,1385.90C1025.53,1385.85 1043.33,1385.97 1060.00,1385.60C1076.67,1385.23 1086.28,1385.42 1100.00,1383.70C1113.72,1381.98 1128.18,1380.23 1142.30,1375.30C1156.42,1370.37 1170.58,1363.52 1184.70,1354.10C1198.82,1344.68 1212.90,1331.97 1227.00,1318.80C1241.10,1305.63 1255.18,1290.15 1269.30,1275.10C1283.42,1260.05 1297.58,1244.97 1311.70,1228.50C1325.82,1212.03 1339.88,1193.00 1354.00,1176.30C1368.12,1159.60 1382.28,1145.23 1396.40,1128.30C1410.52,1111.37 1424.12,1093.52 1438.70,1074.70C1453.28,1055.88 1475.60,1025.68 1483.90,1015.40C1492.20,1005.12 1487.73,1013.40 1488.50,1013.00" fill="none" stroke="#bf00bf" stroke-width="5.56" stroke-dasharray="35.58,8.90,5.56,8.90" stroke-linecap="butt"/>
<rect x="878.2" y="994.1" width="638.40" height="409.95" fill="none" stroke="#000" stroke-width="2.0"/>
<line x1="868.20" y1="1386.05" x2="878.20" y2="1386.05" stroke="#000" stroke-width="2.0"/>
<text x="857.70" y="1394.75" font-size="27.78" text-anchor="end" >0.0</text>
<line x1="868.20" y1="1311.43" x2="878.20" y2="1311.43" stroke="#000" stroke-width="2.0"/>
<text x="857.70" y="1320.13" font-size="27.78" text-anchor="end" >0.2</text>
<line x1="868.20" y1="1236.81" x2="878.20" y2="1236.81" stroke="#000" stroke-width="2.0"/>
<text x="857.70" y="1245.51" font-size="27.78" text-anchor="end" >0.4</text>
<line x1="868.20" y1="1162.19" x2="878.20" y2="1162.19" stroke="#000" stroke-width="2.0"/>
<text x="857.70" y="1170.89" font-size="27.78" text-anchor="end" >0.6</text>
<line x1="868.20" y1="1087.57" x2="878.20" y2="1087.57" stroke="#000" stroke-width="2.0"/>
<text x="857.70" y="1096.27" font-size="27.78" text-anchor="end" >0.8</text>
<line x1="868.20" y1="1012.95" x2="878.20" y2="1012.95" stroke="#000" stroke-width="2.0"/>
<text x="857.70" y="1021.65" font-size="27.78" text-anchor="end" >1.0</text>
<text transform="translate(805.5,1199.08) rotate(-90)" font-size="33.33" text-anchor="middle"><tspan font-style="italic">y</tspan>(<tspan font-style="italic">x</tspan>)/<tspan font-style="italic">y</tspan>(<tspan font-style="italic">W</tspan>/2)</text>
<text x="878.50" y="1020.90" font-size="33.33" text-anchor="start" >(f)</text>
<line x1="906.80" y1="1404.05" x2="906.80" y2="1414.05" stroke="#000" stroke-width="2.0"/>
<text x="906.80" y="1443.05" font-size="27.78" text-anchor="middle" >0.0</text>
<line x1="1023.14" y1="1404.05" x2="1023.14" y2="1414.05" stroke="#000" stroke-width="2.0"/>
<text x="1023.14" y="1443.05" font-size="27.78" text-anchor="middle" >0.2</text>
<line x1="1139.48" y1="1404.05" x2="1139.48" y2="1414.05" stroke="#000" stroke-width="2.0"/>
<text x="1139.48" y="1443.05" font-size="27.78" text-anchor="middle" >0.4</text>
<line x1="1255.82" y1="1404.05" x2="1255.82" y2="1414.05" stroke="#000" stroke-width="2.0"/>
<text x="1255.82" y="1443.05" font-size="27.78" text-anchor="middle" >0.6</text>
<line x1="1372.16" y1="1404.05" x2="1372.16" y2="1414.05" stroke="#000" stroke-width="2.0"/>
<text x="1372.16" y="1443.05" font-size="27.78" text-anchor="middle" >0.8</text>
<line x1="1488.50" y1="1404.05" x2="1488.50" y2="1414.05" stroke="#000" stroke-width="2.0"/>
<text x="1488.50" y="1443.05" font-size="27.78" text-anchor="middle" >1.0</text>
<text x="1195.5" y="1480" font-size="33.33" text-anchor="middle">2<tspan font-style="italic">x</tspan>/<tspan font-style="italic">W</tspan></text>
</svg>
</body></html>
